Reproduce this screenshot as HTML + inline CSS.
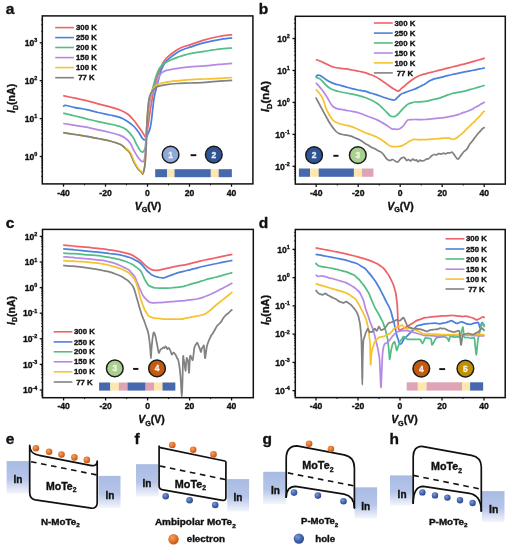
<!DOCTYPE html><html><head><meta charset="utf-8"><style>
html,body{margin:0;padding:0;background:#fff;}body{width:515px;height:550px;overflow:hidden;}
svg{display:block;will-change:transform;filter:blur(0.35px);}text{font-family:"Liberation Sans", sans-serif;font-weight:bold;fill:#111;stroke:#111;stroke-width:0.35px;}
.tk{font-size:8.6px;}.al{font-size:10.4px;}.lg{font-size:7.8px;}.pl{font-size:15.5px;}.cn{font-size:8.4px;fill:#f4f0ea;stroke:#f4f0ea;stroke-width:0.35px;}
.bt{font-size:10px;}
</style></head><body>
<svg width="515" height="550" viewBox="0 0 515 550">
<defs><linearGradient id="ing" x1="0" y1="0" x2="0" y2="1"><stop offset="0" stop-color="#a9bbe3"/><stop offset="0.55" stop-color="#b6c5e9"/><stop offset="1" stop-color="#f4f6fc"/></linearGradient></defs>
<text x="5.8" y="14.3" class="pl">a</text>
<rect x="42.3" y="15.9" width="210.6" height="168" fill="none" stroke="#111" stroke-width="1.5"/>
<line x1="63.5" y1="183.9" x2="63.5" y2="186.7" stroke="#111" stroke-width="1.3"/>
<text x="63.5" y="195.7" text-anchor="middle" class="tk">-40</text>
<line x1="105.5" y1="183.9" x2="105.5" y2="186.7" stroke="#111" stroke-width="1.3"/>
<text x="105.5" y="195.7" text-anchor="middle" class="tk">-20</text>
<line x1="147.5" y1="183.9" x2="147.5" y2="186.7" stroke="#111" stroke-width="1.3"/>
<text x="147.5" y="195.7" text-anchor="middle" class="tk">0</text>
<line x1="189.5" y1="183.9" x2="189.5" y2="186.7" stroke="#111" stroke-width="1.3"/>
<text x="189.5" y="195.7" text-anchor="middle" class="tk">20</text>
<line x1="231.5" y1="183.9" x2="231.5" y2="186.7" stroke="#111" stroke-width="1.3"/>
<text x="231.5" y="195.7" text-anchor="middle" class="tk">40</text>
<line x1="84.5" y1="183.9" x2="84.5" y2="185.3" stroke="#111" stroke-width="1"/>
<line x1="126.5" y1="183.9" x2="126.5" y2="185.3" stroke="#111" stroke-width="1"/>
<line x1="168.5" y1="183.9" x2="168.5" y2="185.3" stroke="#111" stroke-width="1"/>
<line x1="210.5" y1="183.9" x2="210.5" y2="185.3" stroke="#111" stroke-width="1"/>
<text x="148" y="209.7" text-anchor="middle" class="al" textLength="26.5" lengthAdjust="spacingAndGlyphs"><tspan font-style="italic">V</tspan><tspan font-size="7.2" dy="2.7">G</tspan><tspan dy="-2.7">(V)</tspan></text>
<line x1="39.7" y1="156.5" x2="42.5" y2="156.5" stroke="#111" stroke-width="1.3"/>
<text x="37.3" y="159.7" text-anchor="end" class="tk">10<tspan font-size="5.4" dy="-3.6">0</tspan></text>
<line x1="39.7" y1="118.6" x2="42.5" y2="118.6" stroke="#111" stroke-width="1.3"/>
<text x="37.3" y="121.8" text-anchor="end" class="tk">10<tspan font-size="5.4" dy="-3.6">1</tspan></text>
<line x1="39.7" y1="80.7" x2="42.5" y2="80.7" stroke="#111" stroke-width="1.3"/>
<text x="37.3" y="83.9" text-anchor="end" class="tk">10<tspan font-size="5.4" dy="-3.6">2</tspan></text>
<line x1="39.7" y1="42.8" x2="42.5" y2="42.8" stroke="#111" stroke-width="1.3"/>
<text x="37.3" y="46" text-anchor="end" class="tk">10<tspan font-size="5.4" dy="-3.6">3</tspan></text>
<line x1="41.1" y1="176.32" x2="42.5" y2="176.32" stroke="#111" stroke-width="0.8"/>
<line x1="41.1" y1="171.58" x2="42.5" y2="171.58" stroke="#111" stroke-width="0.8"/>
<line x1="41.1" y1="167.91" x2="42.5" y2="167.91" stroke="#111" stroke-width="0.8"/>
<line x1="41.1" y1="164.91" x2="42.5" y2="164.91" stroke="#111" stroke-width="0.8"/>
<line x1="41.1" y1="162.37" x2="42.5" y2="162.37" stroke="#111" stroke-width="0.8"/>
<line x1="41.1" y1="160.17" x2="42.5" y2="160.17" stroke="#111" stroke-width="0.8"/>
<line x1="41.1" y1="158.23" x2="42.5" y2="158.23" stroke="#111" stroke-width="0.8"/>
<line x1="41.1" y1="145.09" x2="42.5" y2="145.09" stroke="#111" stroke-width="0.8"/>
<line x1="41.1" y1="138.42" x2="42.5" y2="138.42" stroke="#111" stroke-width="0.8"/>
<line x1="41.1" y1="133.68" x2="42.5" y2="133.68" stroke="#111" stroke-width="0.8"/>
<line x1="41.1" y1="130.01" x2="42.5" y2="130.01" stroke="#111" stroke-width="0.8"/>
<line x1="41.1" y1="127.01" x2="42.5" y2="127.01" stroke="#111" stroke-width="0.8"/>
<line x1="41.1" y1="124.47" x2="42.5" y2="124.47" stroke="#111" stroke-width="0.8"/>
<line x1="41.1" y1="122.27" x2="42.5" y2="122.27" stroke="#111" stroke-width="0.8"/>
<line x1="41.1" y1="120.33" x2="42.5" y2="120.33" stroke="#111" stroke-width="0.8"/>
<line x1="41.1" y1="107.19" x2="42.5" y2="107.19" stroke="#111" stroke-width="0.8"/>
<line x1="41.1" y1="100.52" x2="42.5" y2="100.52" stroke="#111" stroke-width="0.8"/>
<line x1="41.1" y1="95.78" x2="42.5" y2="95.78" stroke="#111" stroke-width="0.8"/>
<line x1="41.1" y1="92.11" x2="42.5" y2="92.11" stroke="#111" stroke-width="0.8"/>
<line x1="41.1" y1="89.11" x2="42.5" y2="89.11" stroke="#111" stroke-width="0.8"/>
<line x1="41.1" y1="86.57" x2="42.5" y2="86.57" stroke="#111" stroke-width="0.8"/>
<line x1="41.1" y1="84.37" x2="42.5" y2="84.37" stroke="#111" stroke-width="0.8"/>
<line x1="41.1" y1="82.43" x2="42.5" y2="82.43" stroke="#111" stroke-width="0.8"/>
<line x1="41.1" y1="69.29" x2="42.5" y2="69.29" stroke="#111" stroke-width="0.8"/>
<line x1="41.1" y1="62.62" x2="42.5" y2="62.62" stroke="#111" stroke-width="0.8"/>
<line x1="41.1" y1="57.88" x2="42.5" y2="57.88" stroke="#111" stroke-width="0.8"/>
<line x1="41.1" y1="54.21" x2="42.5" y2="54.21" stroke="#111" stroke-width="0.8"/>
<line x1="41.1" y1="51.21" x2="42.5" y2="51.21" stroke="#111" stroke-width="0.8"/>
<line x1="41.1" y1="48.67" x2="42.5" y2="48.67" stroke="#111" stroke-width="0.8"/>
<line x1="41.1" y1="46.47" x2="42.5" y2="46.47" stroke="#111" stroke-width="0.8"/>
<line x1="41.1" y1="44.53" x2="42.5" y2="44.53" stroke="#111" stroke-width="0.8"/>
<line x1="41.1" y1="31.39" x2="42.5" y2="31.39" stroke="#111" stroke-width="0.8"/>
<line x1="41.1" y1="24.72" x2="42.5" y2="24.72" stroke="#111" stroke-width="0.8"/>
<line x1="41.1" y1="19.98" x2="42.5" y2="19.98" stroke="#111" stroke-width="0.8"/>
<text transform="translate(15.1,98.4) rotate(-90)" text-anchor="middle" class="al" textLength="29.2" lengthAdjust="spacingAndGlyphs"><tspan font-style="italic">I</tspan><tspan font-size="7.0" dy="2.4">D</tspan><tspan dy="-2.4">(nA)</tspan></text>
<line x1="55.2" y1="27.6" x2="73.9" y2="27.6" stroke="#ee6268" stroke-width="1.6"/>
<text x="76" y="30.2" class="lg">300 K</text>
<line x1="55.2" y1="37.6" x2="73.9" y2="37.6" stroke="#4a80de" stroke-width="1.6"/>
<text x="76" y="40.2" class="lg">250 K</text>
<line x1="55.2" y1="47.5" x2="73.9" y2="47.5" stroke="#52be84" stroke-width="1.6"/>
<text x="76" y="50.1" class="lg">200 K</text>
<line x1="55.2" y1="57.6" x2="73.9" y2="57.6" stroke="#b68ae4" stroke-width="1.6"/>
<text x="76" y="60.2" class="lg">150 K</text>
<line x1="55.2" y1="67.6" x2="73.9" y2="67.6" stroke="#f6c22e" stroke-width="1.6"/>
<text x="76" y="70.2" class="lg">100 K</text>
<line x1="55.2" y1="77.7" x2="73.9" y2="77.7" stroke="#828282" stroke-width="1.6"/>
<text x="76" y="80.3" class="lg"> 77 K</text>
<path d="M63.2,95.7 C65.17,96.12 71.12,97.37 75,98.2 C78.88,99.03 82.67,99.77 86.5,100.7 C90.33,101.63 94.08,102.78 98,103.8 C101.92,104.82 106.33,105.77 110,106.8 C113.67,107.83 117.07,108.8 120,110 C122.93,111.2 125.27,112.25 127.6,114 C129.93,115.75 132.08,118.25 134,120.5 C135.92,122.75 137.62,125.43 139.1,127.5 C140.58,129.57 141.95,131.47 142.9,132.9 C143.85,134.33 144.28,135.42 144.8,136.1 C145.32,136.78 145.63,137.52 146,137 C146.37,136.48 146.67,134.83 147,133 C147.33,131.17 147.62,128.67 148,126 C148.38,123.33 148.87,120 149.3,117 C149.73,114 150.15,110.83 150.6,108 C151.05,105.17 151.53,102.67 152,100 C152.47,97.33 152.92,94.48 153.4,92 C153.88,89.52 154.38,87.33 154.9,85.1 C155.42,82.87 155.87,80.77 156.5,78.6 C157.13,76.43 157.97,74 158.7,72.1 C159.43,70.2 160.17,68.75 160.9,67.2 C161.63,65.65 162.2,64.27 163.1,62.8 C164,61.33 164.85,59.95 166.3,58.4 C167.75,56.85 169.98,54.95 171.8,53.5 C173.62,52.05 175.38,50.78 177.2,49.7 C179.02,48.62 180.57,47.82 182.7,47 C184.83,46.18 186.35,45.98 190,44.8 C193.65,43.62 199.75,41.28 204.6,39.9 C209.45,38.52 214.5,37.38 219.1,36.5 C223.7,35.62 230.02,34.92 232.2,34.6" fill="none" stroke="#ee6268" stroke-width="1.75" stroke-linejoin="round" stroke-linecap="butt"/>
<path d="M63.2,106.6 C63.43,106.42 64.05,105.68 64.6,105.5 C65.15,105.32 64.77,105.15 66.5,105.5 C68.23,105.85 71.67,106.92 75,107.6 C78.33,108.28 82.67,108.78 86.5,109.6 C90.33,110.42 94.08,111.6 98,112.5 C101.92,113.4 106.33,114.18 110,115 C113.67,115.82 117.07,116.33 120,117.4 C122.93,118.47 125.27,119.88 127.6,121.4 C129.93,122.92 132.08,124.58 134,126.5 C135.92,128.42 137.73,130.98 139.1,132.9 C140.47,134.82 141.25,136.83 142.2,138 C143.15,139.17 143.95,140.33 144.8,139.9 C145.65,139.47 146.45,137.22 147.3,135.4 C148.15,133.58 149.2,131.57 149.9,129 C150.6,126.43 151.05,123.17 151.5,120 C151.95,116.83 152.22,113.33 152.6,110 C152.98,106.67 153.42,102.67 153.8,100 C154.18,97.33 154.53,95.75 154.9,94 C155.27,92.25 155.55,91.33 156,89.5 C156.45,87.67 157.05,85.18 157.6,83 C158.15,80.82 158.75,78.4 159.3,76.4 C159.85,74.4 160.27,72.72 160.9,71 C161.53,69.28 162.2,67.73 163.1,66.1 C164,64.47 164.85,62.83 166.3,61.2 C167.75,59.57 169.98,57.77 171.8,56.3 C173.62,54.83 175.38,53.5 177.2,52.4 C179.02,51.3 180.57,50.57 182.7,49.7 C184.83,48.83 186.35,48.38 190,47.2 C193.65,46.02 199.75,43.85 204.6,42.6 C209.45,41.35 214.5,40.5 219.1,39.7 C223.7,38.9 230.02,38.12 232.2,37.8" fill="none" stroke="#4a80de" stroke-width="1.75" stroke-linejoin="round" stroke-linecap="butt"/>
<path d="M63.2,113.2 C65.17,113.67 71.12,115.07 75,116 C78.88,116.93 82.67,117.87 86.5,118.8 C90.33,119.73 94.08,120.73 98,121.6 C101.92,122.47 106.33,123.18 110,124 C113.67,124.82 117.27,125.55 120,126.5 C122.73,127.45 124.28,128 126.4,129.7 C128.52,131.4 131.02,134.27 132.7,136.7 C134.38,139.13 135.23,141.97 136.5,144.3 C137.77,146.63 139.23,149.42 140.3,150.7 C141.37,151.98 142.08,152.45 142.9,152 C143.72,151.55 144.63,150.5 145.2,148 C145.77,145.5 145.95,141.33 146.3,137 C146.65,132.67 146.93,126.83 147.3,122 C147.67,117.17 148.05,111.83 148.5,108 C148.95,104.17 149.48,101.5 150,99 C150.52,96.5 151.05,95.13 151.6,93 C152.15,90.87 152.67,88.6 153.3,86.2 C153.93,83.8 154.68,80.95 155.4,78.6 C156.12,76.25 156.87,73.92 157.6,72.1 C158.33,70.28 158.88,68.98 159.8,67.7 C160.72,66.42 162.02,65.32 163.1,64.4 C164.18,63.48 164.85,63.02 166.3,62.2 C167.75,61.38 169.98,60.32 171.8,59.5 C173.62,58.68 175.38,57.93 177.2,57.3 C179.02,56.67 180.57,56.3 182.7,55.7 C184.83,55.1 186.35,54.43 190,53.7 C193.65,52.97 199.75,52.07 204.6,51.3 C209.45,50.53 214.5,49.65 219.1,49.1 C223.7,48.55 230.02,48.18 232.2,48" fill="none" stroke="#52be84" stroke-width="1.75" stroke-linejoin="round" stroke-linecap="butt"/>
<path d="M63.2,123.5 C65.17,123.8 71.12,124.68 75,125.3 C78.88,125.92 82.67,126.45 86.5,127.2 C90.33,127.95 94.08,128.92 98,129.8 C101.92,130.68 106.33,131.57 110,132.5 C113.67,133.43 117.48,134.48 120,135.4 C122.52,136.32 123.4,136.73 125.1,138 C126.8,139.27 128.72,140.88 130.2,143 C131.68,145.12 132.73,148.37 134,150.7 C135.27,153.03 136.63,155.32 137.8,157 C138.97,158.68 140.05,160.05 141,160.8 C141.95,161.55 142.87,162.13 143.5,161.5 C144.13,160.87 144.43,159.75 144.8,157 C145.17,154.25 145.4,149.83 145.7,145 C146,140.17 146.22,133.5 146.6,128 C146.98,122.5 147.47,116.5 148,112 C148.53,107.5 149.13,104 149.8,101 C150.47,98 151.07,96.28 152,94 C152.93,91.72 154.47,89.5 155.4,87.3 C156.33,85.1 156.87,82.8 157.6,80.8 C158.33,78.8 159.07,76.67 159.8,75.3 C160.53,73.93 160.92,73.42 162,72.6 C163.08,71.78 164.67,70.95 166.3,70.4 C167.93,69.85 169.07,69.75 171.8,69.3 C174.53,68.85 179.67,68.12 182.7,67.7 C185.73,67.28 186.35,67.1 190,66.8 C193.65,66.5 199.75,66.3 204.6,65.9 C209.45,65.5 214.5,64.82 219.1,64.4 C223.7,63.98 230.02,63.57 232.2,63.4" fill="none" stroke="#b68ae4" stroke-width="1.75" stroke-linejoin="round" stroke-linecap="butt"/>
<path d="M63.2,132.6 C65.17,132.92 71.12,133.88 75,134.5 C78.88,135.12 82.67,135.63 86.5,136.3 C90.33,136.97 94.08,137.72 98,138.5 C101.92,139.28 106.33,140.03 110,141 C113.67,141.97 117.48,143.12 120,144.3 C122.52,145.48 123.4,146.62 125.1,148.1 C126.8,149.58 128.72,150.87 130.2,153.2 C131.68,155.53 132.73,159.55 134,162.1 C135.27,164.65 136.53,166.8 137.8,168.5 C139.07,170.2 140.75,171.45 141.6,172.3 C142.45,173.15 142.37,174.67 142.9,173.6 C143.43,172.53 144.27,170.15 144.8,165.9 C145.33,161.65 145.78,154.08 146.1,148.1 C146.42,142.12 146.5,135.02 146.7,130 C146.9,124.98 147.05,122 147.3,118 C147.55,114 147.87,109.17 148.2,106 C148.53,102.83 148.82,101.08 149.3,99 C149.78,96.92 150.53,95.08 151.1,93.5 C151.67,91.92 151.98,90.72 152.7,89.5 C153.42,88.28 154.4,87.12 155.4,86.2 C156.4,85.28 156.88,84.68 158.7,84 C160.52,83.32 163.22,82.63 166.3,82.1 C169.38,81.57 173.25,81.2 177.2,80.8 C181.15,80.4 185.43,80 190,79.7 C194.57,79.4 199.75,79.23 204.6,79 C209.45,78.77 214.5,78.55 219.1,78.3 C223.7,78.05 230.02,77.63 232.2,77.5" fill="none" stroke="#f6c22e" stroke-width="1.75" stroke-linejoin="round" stroke-linecap="butt"/>
<path d="M63.2,132.6 C65.17,132.92 71.12,133.88 75,134.5 C78.88,135.12 82.67,135.63 86.5,136.3 C90.33,136.97 94.08,137.72 98,138.5 C101.92,139.28 106.33,140.03 110,141 C113.67,141.97 117.48,143.12 120,144.3 C122.52,145.48 123.4,146.62 125.1,148.1 C126.8,149.58 128.72,150.87 130.2,153.2 C131.68,155.53 132.73,159.55 134,162.1 C135.27,164.65 136.53,166.8 137.8,168.5 C139.07,170.2 140.75,171.45 141.6,172.3 C142.45,173.15 142.37,174.67 142.9,173.6 C143.43,172.53 144.27,170.15 144.8,165.9 C145.33,161.65 145.78,154.08 146.1,148.1 C146.42,142.12 146.5,135.02 146.7,130 C146.9,124.98 147.08,121.67 147.3,118 C147.52,114.33 147.73,111 148,108 C148.27,105 148.48,102.33 148.9,100 C149.32,97.67 149.87,95.57 150.5,94 C151.13,92.43 151.88,91.62 152.7,90.6 C153.52,89.58 154.4,88.63 155.4,87.9 C156.4,87.17 156.88,86.75 158.7,86.2 C160.52,85.65 163.22,85.05 166.3,84.6 C169.38,84.15 173.25,83.77 177.2,83.5 C181.15,83.23 185.43,83.2 190,83 C194.57,82.8 199.75,82.6 204.6,82.3 C209.45,82 214.5,81.52 219.1,81.2 C223.7,80.88 230.02,80.53 232.2,80.4" fill="none" stroke="#828282" stroke-width="1.75" stroke-linejoin="round" stroke-linecap="butt"/>
<path d="M125.45,147.65 C126.3,148.5 129.07,150.42 130.55,152.75 C132.03,155.08 133.08,159.1 134.35,161.65 C135.62,164.2 136.88,166.35 138.15,168.05 C139.42,169.75 141.1,171 141.95,171.85 C142.8,172.7 143.03,172.93 143.25,173.15" fill="none" stroke="#f6c22e" stroke-width="1.3" stroke-linejoin="round" stroke-linecap="butt"/>
<rect x="155.2" y="169.2" width="11.85" height="8" fill="#4668ae"/>
<rect x="167" y="169.2" width="7.55" height="8" fill="#fce8ae"/>
<rect x="174.5" y="169.2" width="36.35" height="8" fill="#4668ae"/>
<rect x="210.8" y="169.2" width="7.95" height="8" fill="#fce8ae"/>
<rect x="218.7" y="169.2" width="13.15" height="8" fill="#4668ae"/>
<circle cx="170.6" cy="154.7" r="8.35" fill="#8eaadb" stroke="#1b1b1b" stroke-width="1.45"/>
<text x="170.6" y="157.7" text-anchor="middle" class="cn">1</text>
<rect x="190.6" y="154.25" width="5.7" height="1.9" fill="#111"/>
<circle cx="213.8" cy="154.7" r="8.35" fill="#2f5597" stroke="#1b1b1b" stroke-width="1.45"/>
<text x="213.8" y="157.7" text-anchor="middle" class="cn">2</text>
<text x="258.8" y="14.3" class="pl">b</text>
<rect x="295.3" y="16.3" width="210" height="167.8" fill="none" stroke="#111" stroke-width="1.5"/>
<line x1="316.2" y1="184.1" x2="316.2" y2="186.9" stroke="#111" stroke-width="1.3"/>
<text x="316.2" y="195.7" text-anchor="middle" class="tk">-40</text>
<line x1="358.2" y1="184.1" x2="358.2" y2="186.9" stroke="#111" stroke-width="1.3"/>
<text x="358.2" y="195.7" text-anchor="middle" class="tk">-20</text>
<line x1="400.2" y1="184.1" x2="400.2" y2="186.9" stroke="#111" stroke-width="1.3"/>
<text x="400.2" y="195.7" text-anchor="middle" class="tk">0</text>
<line x1="442.2" y1="184.1" x2="442.2" y2="186.9" stroke="#111" stroke-width="1.3"/>
<text x="442.2" y="195.7" text-anchor="middle" class="tk">20</text>
<line x1="484.2" y1="184.1" x2="484.2" y2="186.9" stroke="#111" stroke-width="1.3"/>
<text x="484.2" y="195.7" text-anchor="middle" class="tk">40</text>
<line x1="337.2" y1="184.1" x2="337.2" y2="185.5" stroke="#111" stroke-width="1"/>
<line x1="379.2" y1="184.1" x2="379.2" y2="185.5" stroke="#111" stroke-width="1"/>
<line x1="421.2" y1="184.1" x2="421.2" y2="185.5" stroke="#111" stroke-width="1"/>
<line x1="463.2" y1="184.1" x2="463.2" y2="185.5" stroke="#111" stroke-width="1"/>
<text x="400.5" y="209.6" text-anchor="middle" class="al" textLength="26.5" lengthAdjust="spacingAndGlyphs"><tspan font-style="italic">V</tspan><tspan font-size="7.2" dy="2.7">G</tspan><tspan dy="-2.7">(V)</tspan></text>
<line x1="292.5" y1="166.3" x2="295.3" y2="166.3" stroke="#111" stroke-width="1.3"/>
<text x="289.7" y="169.5" text-anchor="end" class="tk">10<tspan font-size="5.4" dy="-3.6">-2</tspan></text>
<line x1="292.5" y1="134.35" x2="295.3" y2="134.35" stroke="#111" stroke-width="1.3"/>
<text x="289.7" y="137.55" text-anchor="end" class="tk">10<tspan font-size="5.4" dy="-3.6">-1</tspan></text>
<line x1="292.5" y1="102.4" x2="295.3" y2="102.4" stroke="#111" stroke-width="1.3"/>
<text x="289.7" y="105.6" text-anchor="end" class="tk">10<tspan font-size="5.4" dy="-3.6">0</tspan></text>
<line x1="292.5" y1="70.45" x2="295.3" y2="70.45" stroke="#111" stroke-width="1.3"/>
<text x="289.7" y="73.65" text-anchor="end" class="tk">10<tspan font-size="5.4" dy="-3.6">1</tspan></text>
<line x1="292.5" y1="38.5" x2="295.3" y2="38.5" stroke="#111" stroke-width="1.3"/>
<text x="289.7" y="41.7" text-anchor="end" class="tk">10<tspan font-size="5.4" dy="-3.6">2</tspan></text>
<line x1="293.9" y1="179.01" x2="295.3" y2="179.01" stroke="#111" stroke-width="0.8"/>
<line x1="293.9" y1="175.92" x2="295.3" y2="175.92" stroke="#111" stroke-width="0.8"/>
<line x1="293.9" y1="173.39" x2="295.3" y2="173.39" stroke="#111" stroke-width="0.8"/>
<line x1="293.9" y1="171.25" x2="295.3" y2="171.25" stroke="#111" stroke-width="0.8"/>
<line x1="293.9" y1="169.4" x2="295.3" y2="169.4" stroke="#111" stroke-width="0.8"/>
<line x1="293.9" y1="167.76" x2="295.3" y2="167.76" stroke="#111" stroke-width="0.8"/>
<line x1="293.9" y1="156.68" x2="295.3" y2="156.68" stroke="#111" stroke-width="0.8"/>
<line x1="293.9" y1="151.06" x2="295.3" y2="151.06" stroke="#111" stroke-width="0.8"/>
<line x1="293.9" y1="147.06" x2="295.3" y2="147.06" stroke="#111" stroke-width="0.8"/>
<line x1="293.9" y1="143.97" x2="295.3" y2="143.97" stroke="#111" stroke-width="0.8"/>
<line x1="293.9" y1="141.44" x2="295.3" y2="141.44" stroke="#111" stroke-width="0.8"/>
<line x1="293.9" y1="139.3" x2="295.3" y2="139.3" stroke="#111" stroke-width="0.8"/>
<line x1="293.9" y1="137.45" x2="295.3" y2="137.45" stroke="#111" stroke-width="0.8"/>
<line x1="293.9" y1="135.81" x2="295.3" y2="135.81" stroke="#111" stroke-width="0.8"/>
<line x1="293.9" y1="124.73" x2="295.3" y2="124.73" stroke="#111" stroke-width="0.8"/>
<line x1="293.9" y1="119.11" x2="295.3" y2="119.11" stroke="#111" stroke-width="0.8"/>
<line x1="293.9" y1="115.11" x2="295.3" y2="115.11" stroke="#111" stroke-width="0.8"/>
<line x1="293.9" y1="112.02" x2="295.3" y2="112.02" stroke="#111" stroke-width="0.8"/>
<line x1="293.9" y1="109.49" x2="295.3" y2="109.49" stroke="#111" stroke-width="0.8"/>
<line x1="293.9" y1="107.35" x2="295.3" y2="107.35" stroke="#111" stroke-width="0.8"/>
<line x1="293.9" y1="105.5" x2="295.3" y2="105.5" stroke="#111" stroke-width="0.8"/>
<line x1="293.9" y1="103.86" x2="295.3" y2="103.86" stroke="#111" stroke-width="0.8"/>
<line x1="293.9" y1="92.78" x2="295.3" y2="92.78" stroke="#111" stroke-width="0.8"/>
<line x1="293.9" y1="87.16" x2="295.3" y2="87.16" stroke="#111" stroke-width="0.8"/>
<line x1="293.9" y1="83.16" x2="295.3" y2="83.16" stroke="#111" stroke-width="0.8"/>
<line x1="293.9" y1="80.07" x2="295.3" y2="80.07" stroke="#111" stroke-width="0.8"/>
<line x1="293.9" y1="77.54" x2="295.3" y2="77.54" stroke="#111" stroke-width="0.8"/>
<line x1="293.9" y1="75.4" x2="295.3" y2="75.4" stroke="#111" stroke-width="0.8"/>
<line x1="293.9" y1="73.55" x2="295.3" y2="73.55" stroke="#111" stroke-width="0.8"/>
<line x1="293.9" y1="71.91" x2="295.3" y2="71.91" stroke="#111" stroke-width="0.8"/>
<line x1="293.9" y1="60.83" x2="295.3" y2="60.83" stroke="#111" stroke-width="0.8"/>
<line x1="293.9" y1="55.21" x2="295.3" y2="55.21" stroke="#111" stroke-width="0.8"/>
<line x1="293.9" y1="51.21" x2="295.3" y2="51.21" stroke="#111" stroke-width="0.8"/>
<line x1="293.9" y1="48.12" x2="295.3" y2="48.12" stroke="#111" stroke-width="0.8"/>
<line x1="293.9" y1="45.59" x2="295.3" y2="45.59" stroke="#111" stroke-width="0.8"/>
<line x1="293.9" y1="43.45" x2="295.3" y2="43.45" stroke="#111" stroke-width="0.8"/>
<line x1="293.9" y1="41.6" x2="295.3" y2="41.6" stroke="#111" stroke-width="0.8"/>
<line x1="293.9" y1="39.96" x2="295.3" y2="39.96" stroke="#111" stroke-width="0.8"/>
<line x1="293.9" y1="28.88" x2="295.3" y2="28.88" stroke="#111" stroke-width="0.8"/>
<line x1="293.9" y1="23.26" x2="295.3" y2="23.26" stroke="#111" stroke-width="0.8"/>
<line x1="293.9" y1="19.26" x2="295.3" y2="19.26" stroke="#111" stroke-width="0.8"/>
<text transform="translate(269.2,96.5) rotate(-90)" text-anchor="middle" class="al" textLength="31.1" lengthAdjust="spacingAndGlyphs"><tspan font-style="italic">I</tspan><tspan font-size="7.0" dy="2.4">D</tspan><tspan dy="-2.4">(nA)</tspan></text>
<line x1="373.9" y1="23" x2="392.8" y2="23" stroke="#ee6268" stroke-width="1.6"/>
<text x="394.5" y="25.6" class="lg">300 K</text>
<line x1="373.9" y1="33.1" x2="392.8" y2="33.1" stroke="#4a80de" stroke-width="1.6"/>
<text x="394.5" y="35.7" class="lg">250 K</text>
<line x1="373.9" y1="43" x2="392.8" y2="43" stroke="#52be84" stroke-width="1.6"/>
<text x="394.5" y="45.6" class="lg">200 K</text>
<line x1="373.9" y1="53" x2="392.8" y2="53" stroke="#b68ae4" stroke-width="1.6"/>
<text x="394.5" y="55.6" class="lg">150 K</text>
<line x1="373.9" y1="62.9" x2="392.8" y2="62.9" stroke="#f6c22e" stroke-width="1.6"/>
<text x="394.5" y="65.5" class="lg">100 K</text>
<line x1="373.9" y1="72.9" x2="392.8" y2="72.9" stroke="#828282" stroke-width="1.6"/>
<text x="394.5" y="75.5" class="lg"> 77 K</text>
<path d="M315.8,59.5 C316.5,59.75 318.53,60.4 320,61 C321.47,61.6 323.02,62.35 324.6,63.1 C326.18,63.85 327.8,64.77 329.5,65.5 C331.2,66.23 332.97,67.03 334.8,67.5 C336.63,67.97 338.57,68.07 340.5,68.3 C342.43,68.53 344.48,68.62 346.4,68.9 C348.32,69.18 350.07,69.63 352,70 C353.93,70.37 356.42,70.8 358,71.1 C359.58,71.4 360.33,71.53 361.5,71.8 C362.67,72.07 363.58,72.25 365,72.7 C366.42,73.15 368.3,73.87 370,74.5 C371.7,75.13 373.57,75.72 375.2,76.5 C376.83,77.28 378.32,78.23 379.8,79.2 C381.28,80.17 382.85,81.42 384.1,82.3 C385.35,83.18 386.25,83.77 387.3,84.5 C388.35,85.23 389.45,86.05 390.4,86.7 C391.35,87.35 392.15,87.87 393,88.4 C393.85,88.93 394.83,89.5 395.5,89.9 C396.17,90.3 396.57,90.58 397,90.8 C397.43,91.02 397.73,91.25 398.1,91.2 C398.47,91.15 398.78,90.82 399.2,90.5 C399.62,90.18 399.93,89.88 400.6,89.3 C401.27,88.72 402.35,87.75 403.2,87 C404.05,86.25 404.65,85.67 405.7,84.8 C406.75,83.93 408.23,82.75 409.5,81.8 C410.77,80.85 412.05,79.93 413.3,79.1 C414.55,78.27 415.72,77.48 417,76.8 C418.28,76.12 419.58,75.5 421,75 C422.42,74.5 424,74.2 425.5,73.8 C427,73.4 428.5,72.98 430,72.6 C431.5,72.22 433.07,71.87 434.5,71.5 C435.93,71.13 436.78,70.87 438.6,70.4 C440.42,69.93 443.13,69.27 445.4,68.7 C447.67,68.13 449.93,67.57 452.2,67 C454.47,66.43 456.73,65.87 459,65.3 C461.27,64.73 463.63,64.18 465.8,63.6 C467.97,63.02 469.88,62.4 472,61.8 C474.12,61.2 476.37,60.6 478.5,60 C480.63,59.4 483.75,58.5 484.8,58.2" fill="none" stroke="#ee6268" stroke-width="1.75" stroke-linejoin="round" stroke-linecap="butt"/>
<path d="M315.8,77.5 C315.97,77.22 316.43,76.2 316.8,75.8 C317.17,75.4 317.47,75.15 318,75.1 C318.53,75.05 319.4,75.28 320,75.5 C320.6,75.72 320.85,75.9 321.6,76.4 C322.35,76.9 323.52,77.8 324.5,78.5 C325.48,79.2 326.42,79.95 327.5,80.6 C328.58,81.25 329.78,81.87 331,82.4 C332.22,82.93 333.22,83.3 334.8,83.8 C336.38,84.3 338.57,84.85 340.5,85.4 C342.43,85.95 344.48,86.57 346.4,87.1 C348.32,87.63 350.07,88.12 352,88.6 C353.93,89.08 356.42,89.67 358,90 C359.58,90.33 360.33,90.4 361.5,90.6 C362.67,90.8 363.58,90.83 365,91.2 C366.42,91.57 368.3,92.27 370,92.8 C371.7,93.33 373.53,93.87 375.2,94.4 C376.87,94.93 378.52,95.48 380,96 C381.48,96.52 382.87,97.08 384.1,97.5 C385.33,97.92 386.35,98.18 387.4,98.5 C388.45,98.82 389.55,99.17 390.4,99.4 C391.25,99.63 391.85,99.78 392.5,99.9 C393.15,100.02 393.75,100.22 394.3,100.1 C394.85,99.98 395.38,99.52 395.8,99.2 C396.22,98.88 396.32,98.68 396.8,98.2 C397.28,97.72 398.07,96.93 398.7,96.3 C399.33,95.67 399.75,94.95 400.6,94.4 C401.45,93.85 402.73,93.43 403.8,93 C404.87,92.57 405.72,92.27 407,91.8 C408.28,91.33 410.02,90.73 411.5,90.2 C412.98,89.67 414.65,89.13 415.9,88.6 C417.15,88.07 417.93,87.53 419,87 C420.07,86.47 421.3,85.9 422.3,85.4 C423.3,84.9 423.97,84.65 425,84 C426.03,83.35 427.37,82.18 428.5,81.5 C429.63,80.82 430.72,80.37 431.8,79.9 C432.88,79.43 433.87,79.03 435,78.7 C436.13,78.37 436.87,78.32 438.6,77.9 C440.33,77.48 443.13,76.77 445.4,76.2 C447.67,75.63 449.93,75.02 452.2,74.5 C454.47,73.98 456.73,73.57 459,73.1 C461.27,72.63 463.63,72.13 465.8,71.7 C467.97,71.27 469.88,70.92 472,70.5 C474.12,70.08 476.37,69.63 478.5,69.2 C480.63,68.77 483.75,68.12 484.8,67.9" fill="none" stroke="#4a80de" stroke-width="1.75" stroke-linejoin="round" stroke-linecap="butt"/>
<path d="M315.8,77.7 C316.17,77.75 317.27,77.77 318,78 C318.73,78.23 319.37,78.47 320.2,79.1 C321.03,79.73 322.03,80.82 323,81.8 C323.97,82.78 325.03,84.05 326,85 C326.97,85.95 327.83,86.78 328.8,87.5 C329.77,88.22 330.68,88.78 331.8,89.3 C332.92,89.82 334.28,90.23 335.5,90.6 C336.72,90.97 337.28,91.1 339.1,91.5 C340.92,91.9 343.97,92.52 346.4,93 C348.83,93.48 351.52,93.93 353.7,94.4 C355.88,94.87 357.62,95.28 359.5,95.8 C361.38,96.32 363.45,96.97 365,97.5 C366.55,98.03 367.53,98.47 368.8,99 C370.07,99.53 371.32,100.03 372.6,100.7 C373.88,101.37 375.22,102.15 376.5,103 C377.78,103.85 379.13,104.8 380.3,105.8 C381.47,106.8 382.45,107.93 383.5,109 C384.55,110.07 385.45,111.03 386.6,112.2 C387.75,113.37 389.12,115.27 390.4,116 C391.68,116.73 393.32,116.68 394.3,116.6 C395.28,116.52 395.67,115.92 396.3,115.5 C396.93,115.08 397.38,114.8 398.1,114.1 C398.82,113.4 399.75,112.27 400.6,111.3 C401.45,110.33 402.33,109.22 403.2,108.3 C404.07,107.38 404.95,106.53 405.8,105.8 C406.65,105.07 407.35,104.4 408.3,103.9 C409.25,103.4 410.23,103.12 411.5,102.8 C412.77,102.48 414.4,102.17 415.9,102 C417.4,101.83 418.98,101.9 420.5,101.8 C422.02,101.7 423.12,101.72 425,101.4 C426.88,101.08 429.53,100.42 431.8,99.9 C434.07,99.38 436.33,98.98 438.6,98.3 C440.87,97.62 443.13,96.6 445.4,95.8 C447.67,95 449.93,94.1 452.2,93.5 C454.47,92.9 456.73,92.65 459,92.2 C461.27,91.75 463.63,91.33 465.8,90.8 C467.97,90.27 469.88,89.6 472,89 C474.12,88.4 476.37,87.82 478.5,87.2 C480.63,86.58 483.75,85.62 484.8,85.3" fill="none" stroke="#52be84" stroke-width="1.75" stroke-linejoin="round" stroke-linecap="butt"/>
<path d="M315.8,82.8 C316.28,83.3 317.73,84.72 318.7,85.8 C319.67,86.88 320.62,88.02 321.6,89.3 C322.58,90.58 323.62,92.05 324.6,93.5 C325.58,94.95 326.3,96.03 327.5,98 C328.7,99.97 330.72,103.77 331.8,105.3 C332.88,106.83 333.27,106.7 334,107.2 C334.73,107.7 335.03,107.93 336.2,108.3 C337.37,108.67 339.3,109.05 341,109.4 C342.7,109.75 344.57,110.07 346.4,110.4 C348.23,110.73 350.07,111.03 352,111.4 C353.93,111.77 356.42,112.2 358,112.6 C359.58,113 360.33,113.37 361.5,113.8 C362.67,114.23 363.42,114.58 365,115.2 C366.58,115.82 368.9,116.68 371,117.5 C373.1,118.32 375.77,119.27 377.6,120.1 C379.43,120.93 380.52,121.65 382,122.5 C383.48,123.35 384.92,124.17 386.5,125.2 C388.08,126.23 390.08,128.03 391.5,128.7 C392.92,129.37 393.73,129.15 395,129.2 C396.27,129.25 397.78,129.47 399.1,129 C400.42,128.53 401.87,127.4 402.9,126.4 C403.93,125.4 404.47,124.05 405.3,123 C406.13,121.95 406.87,120.65 407.9,120.1 C408.93,119.55 410.23,119.8 411.5,119.7 C412.77,119.6 414.08,119.52 415.5,119.5 C416.92,119.48 418.42,119.6 420,119.6 C421.58,119.6 423.08,119.62 425,119.5 C426.92,119.38 429.23,119.12 431.5,118.9 C433.77,118.68 436.27,118.47 438.6,118.2 C440.93,117.93 443.23,117.65 445.5,117.3 C447.77,116.95 450.12,116.55 452.2,116.1 C454.28,115.65 456.18,115.17 458,114.6 C459.82,114.03 461.52,113.25 463.1,112.7 C464.68,112.15 466.15,111.82 467.5,111.3 C468.85,110.78 470.28,109.98 471.2,109.6 C472.12,109.22 472.45,109.33 473,109 C473.55,108.67 473.88,108 474.5,107.6 C475.12,107.2 475.95,106.95 476.7,106.6 C477.45,106.25 478.28,105.93 479,105.5 C479.72,105.07 480.42,104.35 481,104 C481.58,103.65 481.87,103.73 482.5,103.4 C483.13,103.07 484.42,102.23 484.8,102" fill="none" stroke="#b68ae4" stroke-width="1.75" stroke-linejoin="round" stroke-linecap="butt"/>
<path d="M315.8,89.3 C316.3,89.83 317.83,91.28 318.8,92.5 C319.77,93.72 320.73,95.02 321.6,96.6 C322.47,98.18 323.27,100.05 324,102 C324.73,103.95 325.33,106.55 326,108.3 C326.67,110.05 327.37,111.25 328,112.5 C328.63,113.75 328.92,114.47 329.8,115.8 C330.68,117.13 332.18,119.38 333.3,120.5 C334.42,121.62 335.33,121.92 336.5,122.5 C337.67,123.08 338.88,123.58 340.3,124 C341.72,124.42 343.25,124.62 345,125 C346.75,125.38 349.22,125.85 350.8,126.3 C352.38,126.75 353.15,127.12 354.5,127.7 C355.85,128.28 357.65,129.22 358.9,129.8 C360.15,130.38 360.98,130.72 362,131.2 C363.02,131.68 363.87,132.27 365,132.7 C366.13,133.13 367.53,133.37 368.8,133.8 C370.07,134.23 371.32,134.77 372.6,135.3 C373.88,135.83 375.23,136.38 376.5,137 C377.77,137.62 379.03,138.3 380.2,139 C381.37,139.7 382.45,140.45 383.5,141.2 C384.55,141.95 385.37,142.7 386.5,143.5 C387.63,144.3 389.05,145.48 390.3,146 C391.55,146.52 392.75,146.5 394,146.6 C395.25,146.7 396.72,146.67 397.8,146.6 C398.88,146.53 399.65,146.4 400.5,146.2 C401.35,146 402.1,145.77 402.9,145.4 C403.7,145.03 404.47,144.53 405.3,144 C406.13,143.47 407.07,142.73 407.9,142.2 C408.73,141.67 409.45,141.22 410.3,140.8 C411.15,140.38 412.05,139.92 413,139.7 C413.95,139.48 415,139.48 416,139.5 C417,139.52 418,139.78 419,139.8 C420,139.82 421,139.62 422,139.6 C423,139.58 423.67,139.75 425,139.7 C426.33,139.65 428.42,139.42 430,139.3 C431.58,139.18 433.07,139.1 434.5,139 C435.93,138.9 437.1,138.83 438.6,138.7 C440.1,138.57 441.92,138.35 443.5,138.2 C445.08,138.05 446.88,137.7 448.1,137.8 C449.32,137.9 449.9,138.53 450.8,138.8 C451.7,139.07 452.58,139.53 453.5,139.4 C454.42,139.27 455.38,138.57 456.3,138 C457.22,137.43 457.97,136.8 459,136 C460.03,135.2 461.37,134.22 462.5,133.2 C463.63,132.18 464.68,131.02 465.8,129.9 C466.92,128.78 468.07,127.63 469.2,126.5 C470.33,125.37 471.72,123.88 472.6,123.1 C473.48,122.32 473.9,122.4 474.5,121.8 C475.1,121.2 475.65,120.08 476.2,119.5 C476.75,118.92 477.27,118.83 477.8,118.3 C478.33,117.77 478.87,116.88 479.4,116.3 C479.93,115.72 480.48,115.38 481,114.8 C481.52,114.22 481.87,113.45 482.5,112.8 C483.13,112.15 484.42,111.22 484.8,110.9" fill="none" stroke="#f6c22e" stroke-width="1.75" stroke-linejoin="round" stroke-linecap="butt"/>
<path d="M315.8,97.3 C316.25,98.17 317.53,100.67 318.5,102.5 C319.47,104.33 320.3,105.88 321.6,108.3 C322.9,110.72 324.73,114.2 326.3,117 C327.87,119.8 329.45,122.77 331,125.1 C332.55,127.43 334.35,129.65 335.6,131 C336.85,132.35 337.33,132.62 338.5,133.2 C339.67,133.78 341.27,134.17 342.6,134.5 C343.93,134.83 345.13,134.92 346.5,135.2 C347.87,135.48 349.63,135.87 350.8,136.2 C351.97,136.53 352.53,136.82 353.5,137.2 C354.47,137.58 355.6,138.08 356.6,138.5 C357.6,138.92 358.53,139.2 359.5,139.7 C360.47,140.2 361.48,140.87 362.4,141.5 C363.32,142.13 364.07,142.92 365,143.5 C365.93,144.08 366.95,144.38 368,145 C369.05,145.62 370.22,146.6 371.3,147.2 C372.38,147.8 373.45,148.07 374.5,148.6 C375.55,149.13 376.6,149.87 377.6,150.4 C378.6,150.93 379.65,151.27 380.5,151.8 C381.35,152.33 382.03,152.9 382.7,153.6 C383.37,154.3 383.87,155.17 384.5,156 C385.13,156.83 385.87,157.93 386.5,158.6 C387.13,159.27 387.67,159.68 388.3,160 C388.93,160.32 389.6,160.58 390.3,160.5 C391,160.42 391.67,159.4 392.5,159.5 C393.33,159.6 394.42,160.68 395.3,161.1 C396.18,161.52 397.08,162.18 397.8,162 C398.52,161.82 398.97,160.67 399.6,160 C400.23,159.33 400.85,158.43 401.6,158 C402.35,157.57 403.25,156.98 404.1,157.4 C404.95,157.82 405.97,160.15 406.7,160.5 C407.43,160.85 407.87,159.45 408.5,159.5 C409.13,159.55 409.75,160.85 410.5,160.8 C411.25,160.75 412.28,159.25 413,159.2 C413.72,159.15 414.22,160.4 414.8,160.5 C415.38,160.6 415.97,159.58 416.5,159.8 C417.03,160.02 417.42,161.73 418,161.8 C418.58,161.87 419.42,160.37 420,160.2 C420.58,160.03 420.78,160.75 421.5,160.8 C422.22,160.85 423.47,160.8 424.3,160.5 C425.13,160.2 425.8,159.28 426.5,159 C427.2,158.72 427.62,159.35 428.5,158.8 C429.38,158.25 430.8,156.42 431.8,155.7 C432.8,154.98 433.72,154.62 434.5,154.5 C435.28,154.38 435.82,155.13 436.5,155 C437.18,154.87 437.77,153.87 438.6,153.7 C439.43,153.53 440.68,154.08 441.5,154 C442.32,153.92 442.83,153.23 443.5,153.2 C444.17,153.17 444.75,153.87 445.5,153.8 C446.25,153.73 447.25,152.93 448,152.8 C448.75,152.67 449.3,153.08 450,153 C450.7,152.92 451.38,151.85 452.2,152.3 C453.02,152.75 454.18,154.75 454.9,155.7 C455.62,156.65 455.93,157.43 456.5,158 C457.07,158.57 457.75,159.27 458.3,159.1 C458.85,158.93 459.23,157.78 459.8,157 C460.37,156.22 461,155.32 461.7,154.4 C462.4,153.48 463.1,152.42 464,151.5 C464.9,150.58 466.18,150.07 467.1,148.9 C468.02,147.73 468.58,145.85 469.5,144.5 C470.42,143.15 471.77,141.88 472.6,140.8 C473.43,139.72 473.82,138.92 474.5,138 C475.18,137.08 476.03,136.13 476.7,135.3 C477.37,134.47 477.83,133.78 478.5,133 C479.17,132.22 480,131.35 480.7,130.6 C481.4,129.85 482.02,129.07 482.7,128.5 C483.38,127.93 484.45,127.42 484.8,127.2" fill="none" stroke="#828282" stroke-width="1.75" stroke-linejoin="round" stroke-linecap="butt"/>
<rect x="298.9" y="168.5" width="11.15" height="8.3" fill="#4668ae"/>
<rect x="310" y="168.5" width="8.75" height="8.3" fill="#fce8ae"/>
<rect x="318.7" y="168.5" width="35.25" height="8.3" fill="#4668ae"/>
<rect x="353.9" y="168.5" width="8.15" height="8.3" fill="#fce8ae"/>
<rect x="362" y="168.5" width="11.45" height="8.3" fill="#dfa3b6"/>
<circle cx="314.1" cy="155.2" r="8.35" fill="#2f5597" stroke="#1b1b1b" stroke-width="1.45"/>
<text x="314.1" y="158.2" text-anchor="middle" class="cn">2</text>
<rect x="333.3" y="154.85" width="5.2" height="1.9" fill="#111"/>
<circle cx="357.8" cy="155.2" r="8.35" fill="#a9d18e" stroke="#1b1b1b" stroke-width="1.45"/>
<text x="357.8" y="158.2" text-anchor="middle" class="cn">3</text>
<text x="5.8" y="228" class="pl">c</text>
<rect x="42.5" y="229.4" width="210.8" height="168.3" fill="none" stroke="#111" stroke-width="1.5"/>
<line x1="63.6" y1="397.7" x2="63.6" y2="400.5" stroke="#111" stroke-width="1.3"/>
<text x="63.6" y="409" text-anchor="middle" class="tk">-40</text>
<line x1="105.6" y1="397.7" x2="105.6" y2="400.5" stroke="#111" stroke-width="1.3"/>
<text x="105.6" y="409" text-anchor="middle" class="tk">-20</text>
<line x1="147.6" y1="397.7" x2="147.6" y2="400.5" stroke="#111" stroke-width="1.3"/>
<text x="147.6" y="409" text-anchor="middle" class="tk">0</text>
<line x1="189.6" y1="397.7" x2="189.6" y2="400.5" stroke="#111" stroke-width="1.3"/>
<text x="189.6" y="409" text-anchor="middle" class="tk">20</text>
<line x1="231.6" y1="397.7" x2="231.6" y2="400.5" stroke="#111" stroke-width="1.3"/>
<text x="231.6" y="409" text-anchor="middle" class="tk">40</text>
<line x1="84.6" y1="397.7" x2="84.6" y2="399.1" stroke="#111" stroke-width="1"/>
<line x1="126.6" y1="397.7" x2="126.6" y2="399.1" stroke="#111" stroke-width="1"/>
<line x1="168.6" y1="397.7" x2="168.6" y2="399.1" stroke="#111" stroke-width="1"/>
<line x1="210.6" y1="397.7" x2="210.6" y2="399.1" stroke="#111" stroke-width="1"/>
<text x="151.5" y="423" text-anchor="middle" class="al" textLength="26.5" lengthAdjust="spacingAndGlyphs"><tspan font-style="italic">V</tspan><tspan font-size="7.2" dy="2.7">G</tspan><tspan dy="-2.7">(V)</tspan></text>
<line x1="39.7" y1="390" x2="42.5" y2="390" stroke="#111" stroke-width="1.3"/>
<text x="37.3" y="393.2" text-anchor="end" class="tk">10<tspan font-size="5.4" dy="-3.6">-4</tspan></text>
<line x1="39.7" y1="364.4" x2="42.5" y2="364.4" stroke="#111" stroke-width="1.3"/>
<text x="37.3" y="367.6" text-anchor="end" class="tk">10<tspan font-size="5.4" dy="-3.6">-3</tspan></text>
<line x1="39.7" y1="338.8" x2="42.5" y2="338.8" stroke="#111" stroke-width="1.3"/>
<text x="37.3" y="342" text-anchor="end" class="tk">10<tspan font-size="5.4" dy="-3.6">-2</tspan></text>
<line x1="39.7" y1="313.2" x2="42.5" y2="313.2" stroke="#111" stroke-width="1.3"/>
<text x="37.3" y="316.4" text-anchor="end" class="tk">10<tspan font-size="5.4" dy="-3.6">-1</tspan></text>
<line x1="39.7" y1="287.6" x2="42.5" y2="287.6" stroke="#111" stroke-width="1.3"/>
<text x="37.3" y="290.8" text-anchor="end" class="tk">10<tspan font-size="5.4" dy="-3.6">0</tspan></text>
<line x1="39.7" y1="262" x2="42.5" y2="262" stroke="#111" stroke-width="1.3"/>
<text x="37.3" y="265.2" text-anchor="end" class="tk">10<tspan font-size="5.4" dy="-3.6">1</tspan></text>
<line x1="39.7" y1="236.4" x2="42.5" y2="236.4" stroke="#111" stroke-width="1.3"/>
<text x="37.3" y="239.6" text-anchor="end" class="tk">10<tspan font-size="5.4" dy="-3.6">2</tspan></text>
<line x1="41.1" y1="395.68" x2="42.5" y2="395.68" stroke="#111" stroke-width="0.8"/>
<line x1="41.1" y1="393.97" x2="42.5" y2="393.97" stroke="#111" stroke-width="0.8"/>
<line x1="41.1" y1="392.48" x2="42.5" y2="392.48" stroke="#111" stroke-width="0.8"/>
<line x1="41.1" y1="391.17" x2="42.5" y2="391.17" stroke="#111" stroke-width="0.8"/>
<line x1="41.1" y1="382.29" x2="42.5" y2="382.29" stroke="#111" stroke-width="0.8"/>
<line x1="41.1" y1="377.79" x2="42.5" y2="377.79" stroke="#111" stroke-width="0.8"/>
<line x1="41.1" y1="374.59" x2="42.5" y2="374.59" stroke="#111" stroke-width="0.8"/>
<line x1="41.1" y1="372.11" x2="42.5" y2="372.11" stroke="#111" stroke-width="0.8"/>
<line x1="41.1" y1="370.08" x2="42.5" y2="370.08" stroke="#111" stroke-width="0.8"/>
<line x1="41.1" y1="368.37" x2="42.5" y2="368.37" stroke="#111" stroke-width="0.8"/>
<line x1="41.1" y1="366.88" x2="42.5" y2="366.88" stroke="#111" stroke-width="0.8"/>
<line x1="41.1" y1="365.57" x2="42.5" y2="365.57" stroke="#111" stroke-width="0.8"/>
<line x1="41.1" y1="356.69" x2="42.5" y2="356.69" stroke="#111" stroke-width="0.8"/>
<line x1="41.1" y1="352.19" x2="42.5" y2="352.19" stroke="#111" stroke-width="0.8"/>
<line x1="41.1" y1="348.99" x2="42.5" y2="348.99" stroke="#111" stroke-width="0.8"/>
<line x1="41.1" y1="346.51" x2="42.5" y2="346.51" stroke="#111" stroke-width="0.8"/>
<line x1="41.1" y1="344.48" x2="42.5" y2="344.48" stroke="#111" stroke-width="0.8"/>
<line x1="41.1" y1="342.77" x2="42.5" y2="342.77" stroke="#111" stroke-width="0.8"/>
<line x1="41.1" y1="341.28" x2="42.5" y2="341.28" stroke="#111" stroke-width="0.8"/>
<line x1="41.1" y1="339.97" x2="42.5" y2="339.97" stroke="#111" stroke-width="0.8"/>
<line x1="41.1" y1="331.09" x2="42.5" y2="331.09" stroke="#111" stroke-width="0.8"/>
<line x1="41.1" y1="326.59" x2="42.5" y2="326.59" stroke="#111" stroke-width="0.8"/>
<line x1="41.1" y1="323.39" x2="42.5" y2="323.39" stroke="#111" stroke-width="0.8"/>
<line x1="41.1" y1="320.91" x2="42.5" y2="320.91" stroke="#111" stroke-width="0.8"/>
<line x1="41.1" y1="318.88" x2="42.5" y2="318.88" stroke="#111" stroke-width="0.8"/>
<line x1="41.1" y1="317.17" x2="42.5" y2="317.17" stroke="#111" stroke-width="0.8"/>
<line x1="41.1" y1="315.68" x2="42.5" y2="315.68" stroke="#111" stroke-width="0.8"/>
<line x1="41.1" y1="314.37" x2="42.5" y2="314.37" stroke="#111" stroke-width="0.8"/>
<line x1="41.1" y1="305.49" x2="42.5" y2="305.49" stroke="#111" stroke-width="0.8"/>
<line x1="41.1" y1="300.99" x2="42.5" y2="300.99" stroke="#111" stroke-width="0.8"/>
<line x1="41.1" y1="297.79" x2="42.5" y2="297.79" stroke="#111" stroke-width="0.8"/>
<line x1="41.1" y1="295.31" x2="42.5" y2="295.31" stroke="#111" stroke-width="0.8"/>
<line x1="41.1" y1="293.28" x2="42.5" y2="293.28" stroke="#111" stroke-width="0.8"/>
<line x1="41.1" y1="291.57" x2="42.5" y2="291.57" stroke="#111" stroke-width="0.8"/>
<line x1="41.1" y1="290.08" x2="42.5" y2="290.08" stroke="#111" stroke-width="0.8"/>
<line x1="41.1" y1="288.77" x2="42.5" y2="288.77" stroke="#111" stroke-width="0.8"/>
<line x1="41.1" y1="279.89" x2="42.5" y2="279.89" stroke="#111" stroke-width="0.8"/>
<line x1="41.1" y1="275.39" x2="42.5" y2="275.39" stroke="#111" stroke-width="0.8"/>
<line x1="41.1" y1="272.19" x2="42.5" y2="272.19" stroke="#111" stroke-width="0.8"/>
<line x1="41.1" y1="269.71" x2="42.5" y2="269.71" stroke="#111" stroke-width="0.8"/>
<line x1="41.1" y1="267.68" x2="42.5" y2="267.68" stroke="#111" stroke-width="0.8"/>
<line x1="41.1" y1="265.97" x2="42.5" y2="265.97" stroke="#111" stroke-width="0.8"/>
<line x1="41.1" y1="264.48" x2="42.5" y2="264.48" stroke="#111" stroke-width="0.8"/>
<line x1="41.1" y1="263.17" x2="42.5" y2="263.17" stroke="#111" stroke-width="0.8"/>
<line x1="41.1" y1="254.29" x2="42.5" y2="254.29" stroke="#111" stroke-width="0.8"/>
<line x1="41.1" y1="249.79" x2="42.5" y2="249.79" stroke="#111" stroke-width="0.8"/>
<line x1="41.1" y1="246.59" x2="42.5" y2="246.59" stroke="#111" stroke-width="0.8"/>
<line x1="41.1" y1="244.11" x2="42.5" y2="244.11" stroke="#111" stroke-width="0.8"/>
<line x1="41.1" y1="242.08" x2="42.5" y2="242.08" stroke="#111" stroke-width="0.8"/>
<line x1="41.1" y1="240.37" x2="42.5" y2="240.37" stroke="#111" stroke-width="0.8"/>
<line x1="41.1" y1="238.88" x2="42.5" y2="238.88" stroke="#111" stroke-width="0.8"/>
<line x1="41.1" y1="237.57" x2="42.5" y2="237.57" stroke="#111" stroke-width="0.8"/>
<text transform="translate(14.8,310.5) rotate(-90)" text-anchor="middle" class="al" textLength="29.1" lengthAdjust="spacingAndGlyphs"><tspan font-style="italic">I</tspan><tspan font-size="7.0" dy="2.4">D</tspan><tspan dy="-2.4">(nA)</tspan></text>
<line x1="53.7" y1="331.8" x2="72.4" y2="331.8" stroke="#ee6268" stroke-width="1.6"/>
<text x="74" y="334.4" class="lg">300 K</text>
<line x1="53.7" y1="341.9" x2="72.4" y2="341.9" stroke="#4a80de" stroke-width="1.6"/>
<text x="74" y="344.5" class="lg">250 K</text>
<line x1="53.7" y1="351.8" x2="72.4" y2="351.8" stroke="#52be84" stroke-width="1.6"/>
<text x="74" y="354.4" class="lg">200 K</text>
<line x1="53.7" y1="361.8" x2="72.4" y2="361.8" stroke="#b68ae4" stroke-width="1.6"/>
<text x="74" y="364.4" class="lg">150 K</text>
<line x1="53.7" y1="371.8" x2="72.4" y2="371.8" stroke="#f6c22e" stroke-width="1.6"/>
<text x="74" y="374.4" class="lg">100 K</text>
<line x1="53.7" y1="382" x2="72.4" y2="382" stroke="#828282" stroke-width="1.6"/>
<text x="74" y="384.6" class="lg"> 77 K</text>
<path d="M63.2,245.2 C64.78,245.33 69.53,245.73 72.7,246 C75.87,246.27 78.92,246.5 82.2,246.8 C85.48,247.1 89,247.47 92.4,247.8 C95.8,248.13 99.77,248.47 102.6,248.8 C105.43,249.13 107.13,249.45 109.4,249.8 C111.67,250.15 114.43,250.6 116.2,250.9 C117.97,251.2 118.4,251.23 120,251.6 C121.6,251.97 123.87,252.55 125.8,253.1 C127.73,253.65 129.9,254.17 131.6,254.9 C133.3,255.63 134.53,256.55 136,257.5 C137.47,258.45 139.18,259.62 140.4,260.6 C141.62,261.58 142.33,262.47 143.3,263.4 C144.27,264.33 145.23,265.38 146.2,266.2 C147.17,267.02 148.13,267.7 149.1,268.3 C150.07,268.9 151.02,269.47 152,269.8 C152.98,270.13 154.03,270.22 155,270.3 C155.97,270.38 156.6,270.45 157.8,270.3 C159,270.15 160.73,269.72 162.2,269.4 C163.67,269.08 164.9,268.78 166.6,268.4 C168.3,268.02 170.47,267.52 172.4,267.1 C174.33,266.68 176.1,266.28 178.2,265.9 C180.3,265.52 183.03,265.18 185,264.8 C186.97,264.42 187.92,264.1 190,263.6 C192.08,263.1 195,262.4 197.5,261.8 C200,261.2 202.58,260.53 205,260 C207.42,259.47 209.67,259.08 212,258.6 C214.33,258.12 216.7,257.58 219,257.1 C221.3,256.62 223.57,256.15 225.8,255.7 C228.03,255.25 231.3,254.62 232.4,254.4" fill="none" stroke="#ee6268" stroke-width="1.75" stroke-linejoin="round" stroke-linecap="butt"/>
<path d="M63.2,248.8 C64.78,248.95 69.53,249.4 72.7,249.7 C75.87,250 78.92,250.28 82.2,250.6 C85.48,250.92 89,251.27 92.4,251.6 C95.8,251.93 99.77,252.28 102.6,252.6 C105.43,252.92 107.13,253.22 109.4,253.5 C111.67,253.78 114.43,254.07 116.2,254.3 C117.97,254.53 118.4,254.55 120,254.9 C121.6,255.25 123.87,255.85 125.8,256.4 C127.73,256.95 129.9,257.52 131.6,258.2 C133.3,258.88 134.53,259.65 136,260.5 C137.47,261.35 139.18,262.33 140.4,263.3 C141.62,264.27 142.33,265.22 143.3,266.3 C144.27,267.38 145.23,268.75 146.2,269.8 C147.17,270.85 148.13,271.75 149.1,272.6 C150.07,273.45 150.92,274.25 152,274.9 C153.08,275.55 154.38,276.07 155.6,276.5 C156.82,276.93 157.95,277.28 159.3,277.5 C160.65,277.72 162.48,277.9 163.7,277.8 C164.92,277.7 165.63,277.25 166.6,276.9 C167.57,276.55 168.3,276.15 169.5,275.7 C170.7,275.25 172.35,274.7 173.8,274.2 C175.25,273.7 176.33,273.23 178.2,272.7 C180.07,272.17 183.03,271.48 185,271 C186.97,270.52 187.92,270.33 190,269.8 C192.08,269.27 195,268.43 197.5,267.8 C200,267.17 202.58,266.55 205,266 C207.42,265.45 209.67,265 212,264.5 C214.33,264 216.7,263.47 219,263 C221.3,262.53 223.57,262.13 225.8,261.7 C228.03,261.27 231.3,260.62 232.4,260.4" fill="none" stroke="#4a80de" stroke-width="1.75" stroke-linejoin="round" stroke-linecap="butt"/>
<path d="M63.2,253.2 C64.78,253.28 69.53,253.52 72.7,253.7 C75.87,253.88 78.92,254.05 82.2,254.3 C85.48,254.55 89,254.87 92.4,255.2 C95.8,255.53 99.77,255.93 102.6,256.3 C105.43,256.67 107.13,256.98 109.4,257.4 C111.67,257.82 114.43,258.43 116.2,258.8 C117.97,259.17 118.4,259.15 120,259.6 C121.6,260.05 123.87,260.77 125.8,261.5 C127.73,262.23 129.9,263.08 131.6,264 C133.3,264.92 134.53,265.9 136,267 C137.47,268.1 139.3,269.32 140.4,270.6 C141.5,271.88 141.88,273.25 142.6,274.7 C143.32,276.15 143.98,277.92 144.7,279.3 C145.42,280.68 146.17,281.92 146.9,283 C147.63,284.08 148.12,285.08 149.1,285.8 C150.08,286.52 151.58,286.93 152.8,287.3 C154.02,287.67 154.58,287.85 156.4,288 C158.22,288.15 161.28,288.2 163.7,288.2 C166.12,288.2 168.68,288.13 170.9,288 C173.12,287.87 175.05,287.63 177,287.4 C178.95,287.17 181.05,286.92 182.6,286.6 C184.15,286.28 185.07,285.87 186.3,285.5 C187.53,285.13 188.13,284.93 190,284.4 C191.87,283.87 195,283.03 197.5,282.3 C200,281.57 202.58,280.7 205,280 C207.42,279.3 209.67,278.72 212,278.1 C214.33,277.48 216.7,276.92 219,276.3 C221.3,275.68 223.57,275.02 225.8,274.4 C228.03,273.78 231.3,272.9 232.4,272.6" fill="none" stroke="#52be84" stroke-width="1.75" stroke-linejoin="round" stroke-linecap="butt"/>
<path d="M63.2,257 C63.83,256.97 65.87,256.75 67,256.8 C68.13,256.85 69.05,257.22 70,257.3 C70.95,257.38 71.7,257.18 72.7,257.3 C73.7,257.42 74.42,257.83 76,258 C77.58,258.17 79.47,258.08 82.2,258.3 C84.93,258.52 89,258.95 92.4,259.3 C95.8,259.65 99.77,259.97 102.6,260.4 C105.43,260.83 107.13,261.33 109.4,261.9 C111.67,262.47 114.43,263.2 116.2,263.8 C117.97,264.4 118.63,264.87 120,265.5 C121.37,266.13 122.95,266.88 124.4,267.6 C125.85,268.32 127.5,268.92 128.7,269.8 C129.9,270.68 130.62,271.8 131.6,272.9 C132.58,274 133.75,274.98 134.6,276.4 C135.45,277.82 135.98,279.7 136.7,281.4 C137.42,283.1 138.17,284.92 138.9,286.6 C139.63,288.28 140.37,289.93 141.1,291.5 C141.83,293.07 142.45,294.7 143.3,296 C144.15,297.3 145.23,298.32 146.2,299.3 C147.17,300.28 148.25,301.33 149.1,301.9 C149.95,302.47 150.57,302.53 151.3,302.7 C152.03,302.87 152.28,302.92 153.5,302.9 C154.72,302.88 156.9,302.7 158.6,302.6 C160.3,302.5 161.63,302.45 163.7,302.3 C165.77,302.15 168.58,301.9 171,301.7 C173.42,301.5 175.87,301.28 178.2,301.1 C180.53,300.92 183.03,300.82 185,300.6 C186.97,300.38 188,300.07 190,299.8 C192,299.53 194.83,299.42 197,299 C199.17,298.58 201,297.97 203,297.3 C205,296.63 207,295.83 209,295 C211,294.17 213,293.3 215,292.3 C217,291.3 219,290.05 221,289 C223,287.95 225.1,287 227,286 C228.9,285 231.5,283.5 232.4,283" fill="none" stroke="#b68ae4" stroke-width="1.75" stroke-linejoin="round" stroke-linecap="butt"/>
<path d="M63.2,260.7 C64.78,260.78 69.53,261.03 72.7,261.2 C75.87,261.37 78.92,261.45 82.2,261.7 C85.48,261.95 89,262.35 92.4,262.7 C95.8,263.05 99.77,263.37 102.6,263.8 C105.43,264.23 107.13,264.73 109.4,265.3 C111.67,265.87 114.43,266.68 116.2,267.2 C117.97,267.72 118.63,267.85 120,268.4 C121.37,268.95 122.95,269.78 124.4,270.5 C125.85,271.22 127.48,271.83 128.7,272.7 C129.92,273.57 130.72,274.6 131.7,275.7 C132.68,276.8 133.87,278.12 134.6,279.3 C135.33,280.48 135.62,281.58 136.1,282.8 C136.58,284.02 137.02,285.02 137.5,286.6 C137.98,288.18 138.52,290.37 139,292.3 C139.48,294.23 139.8,296.2 140.4,298.2 C141,300.2 141.88,302.35 142.6,304.3 C143.32,306.25 143.98,308.37 144.7,309.9 C145.42,311.43 146.17,312.42 146.9,313.5 C147.63,314.58 148.05,315.68 149.1,316.4 C150.15,317.12 151.83,317.47 153.2,317.8 C154.57,318.13 155.87,318.22 157.3,318.4 C158.73,318.58 160.28,318.78 161.8,318.9 C163.32,319.02 164.43,319.07 166.4,319.1 C168.37,319.13 171.18,319.1 173.6,319.1 C176.02,319.1 178.92,319.25 180.9,319.1 C182.88,318.95 183.98,318.5 185.5,318.2 C187.02,317.9 188.42,317.6 190,317.3 C191.58,317 193.33,316.7 195,316.4 C196.67,316.1 198.75,315.77 200,315.5 C201.25,315.23 201.67,315.05 202.5,314.8 C203.33,314.55 203.75,314.72 205,314 C206.25,313.28 208.33,311.83 210,310.5 C211.67,309.17 213.33,307.42 215,306 C216.67,304.58 218.33,303.33 220,302 C221.67,300.67 223.55,299.17 225,298 C226.45,296.83 227.47,296 228.7,295 C229.93,294 231.78,292.5 232.4,292" fill="none" stroke="#f6c22e" stroke-width="1.75" stroke-linejoin="round" stroke-linecap="butt"/>
<path d="M63.2,265.4 C64.78,265.53 69.53,265.9 72.7,266.2 C75.87,266.5 79.48,266.88 82.2,267.2 C84.92,267.52 86.73,267.77 89,268.1 C91.27,268.43 93.53,268.8 95.8,269.2 C98.07,269.6 100.33,270.05 102.6,270.5 C104.87,270.95 107.47,271.4 109.4,271.9 C111.33,272.4 112.62,272.93 114.2,273.5 C115.78,274.07 117.6,274.75 118.9,275.3 C120.2,275.85 120.98,276.23 122,276.8 C123.02,277.37 124.12,278.13 125,278.7 C125.88,279.27 126.43,279.48 127.3,280.2 C128.17,280.92 129.23,281.93 130.2,283 C131.17,284.07 132.37,285.35 133.1,286.6 C133.83,287.85 134.12,289.05 134.6,290.5 C135.08,291.95 135.52,293.63 136,295.3 C136.48,296.97 137.02,298.8 137.5,300.5 C137.98,302.2 138.42,303.83 138.9,305.5 C139.38,307.17 139.92,308.92 140.4,310.5 C140.88,312.08 141.33,313.67 141.8,315 C142.27,316.33 142.75,317.37 143.2,318.5 C143.65,319.63 143.98,320.38 144.5,321.8 C145.02,323.22 145.68,325.18 146.3,327 C146.92,328.82 147.72,330.7 148.2,332.7 C148.68,334.7 148.9,336.87 149.2,339 C149.5,341.13 149.78,343.33 150,345.5 C150.22,347.67 150.35,349.88 150.5,352 C150.65,354.12 150.77,358.2 150.9,358.2 C151.03,358.2 151.15,354.12 151.3,352 C151.45,349.88 151.58,347.83 151.8,345.5 C152.02,343.17 152.3,340.13 152.6,338 C152.9,335.87 153.28,333.45 153.6,332.7 C153.92,331.95 154.18,332.88 154.5,333.5 C154.82,334.12 155.18,335.15 155.5,336.4 C155.82,337.65 156.1,339.48 156.4,341 C156.7,342.52 156.92,343.55 157.3,345.5 C157.68,347.45 158.28,351.78 158.7,352.7 C159.12,353.62 159.43,351.6 159.8,351 C160.17,350.4 160.5,349.52 160.9,349.1 C161.3,348.68 161.75,348.8 162.2,348.5 C162.65,348.2 163.22,347.38 163.6,347.3 C163.98,347.22 164.18,348.15 164.5,348 C164.82,347.85 165.18,346.48 165.5,346.4 C165.82,346.32 166.1,347.05 166.4,347.5 C166.7,347.95 167,349.02 167.3,349.1 C167.6,349.18 167.9,348.15 168.2,348 C168.5,347.85 168.72,347.7 169.1,348.2 C169.48,348.7 170.05,349.95 170.5,351 C170.95,352.05 171.43,354.08 171.8,354.5 C172.17,354.92 172.4,353.8 172.7,353.5 C173,353.2 173.22,352.62 173.6,352.7 C173.98,352.78 174.53,353.38 175,354 C175.47,354.62 176.02,355.65 176.4,356.4 C176.78,357.15 177,357.9 177.3,358.5 C177.6,359.1 177.88,358.92 178.2,360 C178.52,361.08 178.9,363.18 179.2,365 C179.5,366.82 179.72,368.1 180,370.9 C180.28,373.7 180.68,378.62 180.9,381.8 C181.12,384.98 181.15,387.55 181.3,390 C181.45,392.45 181.65,396.5 181.8,396.5 C181.95,396.5 182.05,393.97 182.2,390 C182.35,386.03 182.55,378.3 182.7,372.7 C182.85,367.1 182.92,358.52 183.1,356.4 C183.28,354.28 183.57,358.8 183.8,360 C184.03,361.2 184.22,361.78 184.5,363.6 C184.78,365.42 185.23,370.83 185.5,370.9 C185.77,370.97 185.9,366.12 186.1,364 C186.3,361.88 186.47,358.95 186.7,358.2 C186.93,357.45 187.25,358.9 187.5,359.5 C187.75,360.1 187.93,359.6 188.2,361.8 C188.47,364 188.8,373.6 189.1,372.7 C189.4,371.8 189.62,358.85 190,356.4 C190.38,353.95 190.95,357.4 191.4,358 C191.85,358.6 192.33,360.67 192.7,360 C193.07,359.33 193.3,356.12 193.6,354 C193.9,351.88 194.12,348.88 194.5,347.3 C194.88,345.72 195.43,345.27 195.9,344.5 C196.37,343.73 196.83,342.45 197.3,342.7 C197.77,342.95 198.25,344.93 198.7,346 C199.15,347.07 199.62,348.1 200,349.1 C200.38,350.1 200.67,352.18 201,352 C201.33,351.82 201.67,348.83 202,348 C202.33,347.17 202.67,347.33 203,347 C203.33,346.67 203.67,344.17 204,346 C204.33,347.83 204.67,357 205,358 C205.33,359 205.67,354 206,352 C206.33,350 206.58,347.75 207,346 C207.42,344.25 208,342.83 208.5,341.5 C209,340.17 209.58,338.92 210,338 C210.42,337.08 210.5,336.83 211,336 C211.5,335.17 212.33,334.08 213,333 C213.67,331.92 214.33,330.67 215,329.5 C215.67,328.33 216.33,326.92 217,326 C217.67,325.08 218.33,324.67 219,324 C219.67,323.33 220.33,322.92 221,322 C221.67,321.08 222.33,319.5 223,318.5 C223.67,317.5 224.42,316.67 225,316 C225.58,315.33 226,314.92 226.5,314.5 C227,314.08 227.5,313.92 228,313.5 C228.5,313.08 229,312.5 229.5,312 C230,311.5 230.52,310.9 231,310.5 C231.48,310.1 232.17,309.75 232.4,309.6" fill="none" stroke="#828282" stroke-width="1.75" stroke-linejoin="round" stroke-linecap="butt"/>
<rect x="99.1" y="382.5" width="11.25" height="8.1" fill="#4668ae"/>
<rect x="110.3" y="382.5" width="8.55" height="8.1" fill="#fce8ae"/>
<rect x="118.8" y="382.5" width="8.75" height="8.1" fill="#dfa3b6"/>
<rect x="127.5" y="382.5" width="18.15" height="8.1" fill="#4668ae"/>
<rect x="145.6" y="382.5" width="8.45" height="8.1" fill="#dfa3b6"/>
<rect x="154" y="382.5" width="8.55" height="8.1" fill="#fce8ae"/>
<rect x="162.5" y="382.5" width="12.85" height="8.1" fill="#4668ae"/>
<circle cx="114.8" cy="368.4" r="8.35" fill="#a9d18e" stroke="#1b1b1b" stroke-width="1.45"/>
<text x="114.8" y="371.4" text-anchor="middle" class="cn">3</text>
<rect x="133.1" y="367.95" width="5.3" height="1.9" fill="#111"/>
<circle cx="157" cy="368.4" r="8.35" fill="#c55a11" stroke="#1b1b1b" stroke-width="1.45"/>
<text x="157" y="371.4" text-anchor="middle" class="cn">4</text>
<text x="258.8" y="228" class="pl">d</text>
<rect x="295.3" y="229.5" width="209.9" height="168.1" fill="none" stroke="#111" stroke-width="1.5"/>
<line x1="316" y1="397.6" x2="316" y2="400.4" stroke="#111" stroke-width="1.3"/>
<text x="316" y="409" text-anchor="middle" class="tk">-40</text>
<line x1="358" y1="397.6" x2="358" y2="400.4" stroke="#111" stroke-width="1.3"/>
<text x="358" y="409" text-anchor="middle" class="tk">-20</text>
<line x1="400" y1="397.6" x2="400" y2="400.4" stroke="#111" stroke-width="1.3"/>
<text x="400" y="409" text-anchor="middle" class="tk">0</text>
<line x1="442" y1="397.6" x2="442" y2="400.4" stroke="#111" stroke-width="1.3"/>
<text x="442" y="409" text-anchor="middle" class="tk">20</text>
<line x1="484" y1="397.6" x2="484" y2="400.4" stroke="#111" stroke-width="1.3"/>
<text x="484" y="409" text-anchor="middle" class="tk">40</text>
<line x1="337" y1="397.6" x2="337" y2="399" stroke="#111" stroke-width="1"/>
<line x1="379" y1="397.6" x2="379" y2="399" stroke="#111" stroke-width="1"/>
<line x1="421" y1="397.6" x2="421" y2="399" stroke="#111" stroke-width="1"/>
<line x1="463" y1="397.6" x2="463" y2="399" stroke="#111" stroke-width="1"/>
<text x="404.4" y="423" text-anchor="middle" class="al" textLength="26.5" lengthAdjust="spacingAndGlyphs"><tspan font-style="italic">V</tspan><tspan font-size="7.2" dy="2.7">G</tspan><tspan dy="-2.7">(V)</tspan></text>
<line x1="292.5" y1="390.64" x2="295.3" y2="390.64" stroke="#111" stroke-width="1.3"/>
<text x="289.7" y="393.84" text-anchor="end" class="tk">10<tspan font-size="5.4" dy="-3.6">-4</tspan></text>
<line x1="292.5" y1="362.38" x2="295.3" y2="362.38" stroke="#111" stroke-width="1.3"/>
<text x="289.7" y="365.58" text-anchor="end" class="tk">10<tspan font-size="5.4" dy="-3.6">-3</tspan></text>
<line x1="292.5" y1="334.12" x2="295.3" y2="334.12" stroke="#111" stroke-width="1.3"/>
<text x="289.7" y="337.32" text-anchor="end" class="tk">10<tspan font-size="5.4" dy="-3.6">-2</tspan></text>
<line x1="292.5" y1="305.86" x2="295.3" y2="305.86" stroke="#111" stroke-width="1.3"/>
<text x="289.7" y="309.06" text-anchor="end" class="tk">10<tspan font-size="5.4" dy="-3.6">-1</tspan></text>
<line x1="292.5" y1="277.6" x2="295.3" y2="277.6" stroke="#111" stroke-width="1.3"/>
<text x="289.7" y="280.8" text-anchor="end" class="tk">10<tspan font-size="5.4" dy="-3.6">0</tspan></text>
<line x1="292.5" y1="249.34" x2="295.3" y2="249.34" stroke="#111" stroke-width="1.3"/>
<text x="289.7" y="252.54" text-anchor="end" class="tk">10<tspan font-size="5.4" dy="-3.6">1</tspan></text>
<line x1="293.9" y1="395.02" x2="295.3" y2="395.02" stroke="#111" stroke-width="0.8"/>
<line x1="293.9" y1="393.38" x2="295.3" y2="393.38" stroke="#111" stroke-width="0.8"/>
<line x1="293.9" y1="391.93" x2="295.3" y2="391.93" stroke="#111" stroke-width="0.8"/>
<line x1="293.9" y1="382.13" x2="295.3" y2="382.13" stroke="#111" stroke-width="0.8"/>
<line x1="293.9" y1="377.16" x2="295.3" y2="377.16" stroke="#111" stroke-width="0.8"/>
<line x1="293.9" y1="373.63" x2="295.3" y2="373.63" stroke="#111" stroke-width="0.8"/>
<line x1="293.9" y1="370.89" x2="295.3" y2="370.89" stroke="#111" stroke-width="0.8"/>
<line x1="293.9" y1="368.65" x2="295.3" y2="368.65" stroke="#111" stroke-width="0.8"/>
<line x1="293.9" y1="366.76" x2="295.3" y2="366.76" stroke="#111" stroke-width="0.8"/>
<line x1="293.9" y1="365.12" x2="295.3" y2="365.12" stroke="#111" stroke-width="0.8"/>
<line x1="293.9" y1="363.67" x2="295.3" y2="363.67" stroke="#111" stroke-width="0.8"/>
<line x1="293.9" y1="353.87" x2="295.3" y2="353.87" stroke="#111" stroke-width="0.8"/>
<line x1="293.9" y1="348.9" x2="295.3" y2="348.9" stroke="#111" stroke-width="0.8"/>
<line x1="293.9" y1="345.37" x2="295.3" y2="345.37" stroke="#111" stroke-width="0.8"/>
<line x1="293.9" y1="342.63" x2="295.3" y2="342.63" stroke="#111" stroke-width="0.8"/>
<line x1="293.9" y1="340.39" x2="295.3" y2="340.39" stroke="#111" stroke-width="0.8"/>
<line x1="293.9" y1="338.5" x2="295.3" y2="338.5" stroke="#111" stroke-width="0.8"/>
<line x1="293.9" y1="336.86" x2="295.3" y2="336.86" stroke="#111" stroke-width="0.8"/>
<line x1="293.9" y1="335.41" x2="295.3" y2="335.41" stroke="#111" stroke-width="0.8"/>
<line x1="293.9" y1="325.61" x2="295.3" y2="325.61" stroke="#111" stroke-width="0.8"/>
<line x1="293.9" y1="320.64" x2="295.3" y2="320.64" stroke="#111" stroke-width="0.8"/>
<line x1="293.9" y1="317.11" x2="295.3" y2="317.11" stroke="#111" stroke-width="0.8"/>
<line x1="293.9" y1="314.37" x2="295.3" y2="314.37" stroke="#111" stroke-width="0.8"/>
<line x1="293.9" y1="312.13" x2="295.3" y2="312.13" stroke="#111" stroke-width="0.8"/>
<line x1="293.9" y1="310.24" x2="295.3" y2="310.24" stroke="#111" stroke-width="0.8"/>
<line x1="293.9" y1="308.6" x2="295.3" y2="308.6" stroke="#111" stroke-width="0.8"/>
<line x1="293.9" y1="307.15" x2="295.3" y2="307.15" stroke="#111" stroke-width="0.8"/>
<line x1="293.9" y1="297.35" x2="295.3" y2="297.35" stroke="#111" stroke-width="0.8"/>
<line x1="293.9" y1="292.38" x2="295.3" y2="292.38" stroke="#111" stroke-width="0.8"/>
<line x1="293.9" y1="288.85" x2="295.3" y2="288.85" stroke="#111" stroke-width="0.8"/>
<line x1="293.9" y1="286.11" x2="295.3" y2="286.11" stroke="#111" stroke-width="0.8"/>
<line x1="293.9" y1="283.87" x2="295.3" y2="283.87" stroke="#111" stroke-width="0.8"/>
<line x1="293.9" y1="281.98" x2="295.3" y2="281.98" stroke="#111" stroke-width="0.8"/>
<line x1="293.9" y1="280.34" x2="295.3" y2="280.34" stroke="#111" stroke-width="0.8"/>
<line x1="293.9" y1="278.89" x2="295.3" y2="278.89" stroke="#111" stroke-width="0.8"/>
<line x1="293.9" y1="269.09" x2="295.3" y2="269.09" stroke="#111" stroke-width="0.8"/>
<line x1="293.9" y1="264.12" x2="295.3" y2="264.12" stroke="#111" stroke-width="0.8"/>
<line x1="293.9" y1="260.59" x2="295.3" y2="260.59" stroke="#111" stroke-width="0.8"/>
<line x1="293.9" y1="257.85" x2="295.3" y2="257.85" stroke="#111" stroke-width="0.8"/>
<line x1="293.9" y1="255.61" x2="295.3" y2="255.61" stroke="#111" stroke-width="0.8"/>
<line x1="293.9" y1="253.72" x2="295.3" y2="253.72" stroke="#111" stroke-width="0.8"/>
<line x1="293.9" y1="252.08" x2="295.3" y2="252.08" stroke="#111" stroke-width="0.8"/>
<line x1="293.9" y1="250.63" x2="295.3" y2="250.63" stroke="#111" stroke-width="0.8"/>
<line x1="293.9" y1="240.83" x2="295.3" y2="240.83" stroke="#111" stroke-width="0.8"/>
<line x1="293.9" y1="235.86" x2="295.3" y2="235.86" stroke="#111" stroke-width="0.8"/>
<line x1="293.9" y1="232.33" x2="295.3" y2="232.33" stroke="#111" stroke-width="0.8"/>
<text transform="translate(268.9,310) rotate(-90)" text-anchor="middle" class="al" textLength="30" lengthAdjust="spacingAndGlyphs"><tspan font-style="italic">I</tspan><tspan font-size="7.0" dy="2.4">D</tspan><tspan dy="-2.4">(nA)</tspan></text>
<line x1="445.5" y1="238.8" x2="464.4" y2="238.8" stroke="#ee6268" stroke-width="1.6"/>
<text x="466" y="241.4" class="lg">300 K</text>
<line x1="445.5" y1="249" x2="464.4" y2="249" stroke="#4a80de" stroke-width="1.6"/>
<text x="466" y="251.6" class="lg">250 K</text>
<line x1="445.5" y1="259" x2="464.4" y2="259" stroke="#52be84" stroke-width="1.6"/>
<text x="466" y="261.6" class="lg">200 K</text>
<line x1="445.5" y1="269.2" x2="464.4" y2="269.2" stroke="#b68ae4" stroke-width="1.6"/>
<text x="466" y="271.8" class="lg">150 K</text>
<line x1="445.5" y1="279.1" x2="464.4" y2="279.1" stroke="#f6c22e" stroke-width="1.6"/>
<text x="466" y="281.7" class="lg">100 K</text>
<line x1="445.5" y1="289" x2="464.4" y2="289" stroke="#828282" stroke-width="1.6"/>
<text x="466" y="291.6" class="lg"> 77 K</text>
<path d="M315.6,247.9 C317,248.17 321.23,248.98 324,249.5 C326.77,250.02 329.7,250.52 332.2,251 C334.7,251.48 336.73,251.93 339,252.4 C341.27,252.87 343.53,253.28 345.8,253.8 C348.07,254.32 350.33,254.9 352.6,255.5 C354.87,256.1 357.38,256.83 359.4,257.4 C361.42,257.97 362.93,258.37 364.7,258.9 C366.47,259.43 368.55,260.08 370,260.6 C371.45,261.12 372.27,261.5 373.4,262 C374.53,262.5 375.67,262.97 376.8,263.6 C377.93,264.23 379.07,265.02 380.2,265.8 C381.33,266.58 382.58,267.28 383.6,268.3 C384.62,269.32 385.4,270.65 386.3,271.9 C387.2,273.15 388.2,274.48 389,275.8 C389.8,277.12 390.42,278.43 391.1,279.8 C391.78,281.17 392.53,282.53 393.1,284 C393.67,285.47 394.05,287.02 394.5,288.6 C394.95,290.18 395.47,291.82 395.8,293.5 C396.13,295.18 396.27,296.88 396.5,298.7 C396.73,300.52 397.02,302.18 397.2,304.4 C397.38,306.62 397.48,309.4 397.6,312 C397.72,314.6 397.8,317.83 397.9,320 C398,322.17 398.08,323.5 398.2,325 C398.32,326.5 398.38,328.13 398.6,329 C398.82,329.87 399.1,330.12 399.5,330.2 C399.9,330.28 400.32,329.78 401,329.5 C401.68,329.22 402.6,329 403.6,328.5 C404.6,328 405.87,327.17 407,326.5 C408.13,325.83 409.27,325.18 410.4,324.5 C411.53,323.82 412.67,323.08 413.8,322.4 C414.93,321.72 415.95,320.98 417.2,320.4 C418.45,319.82 419.95,319.35 421.3,318.9 C422.65,318.45 423.6,318.03 425.3,317.7 C427,317.37 429.45,317.13 431.5,316.9 C433.55,316.67 435.68,316.47 437.6,316.3 C439.52,316.13 441.2,316.02 443,315.9 C444.8,315.78 446.78,315.67 448.4,315.6 C450.02,315.53 451.38,315.45 452.7,315.5 C454.02,315.55 455.08,315.78 456.3,315.9 C457.52,316.02 458.88,316.1 460,316.2 C461.12,316.3 462.08,316.52 463,316.5 C463.92,316.48 464.45,316.02 465.5,316.1 C466.55,316.18 468.03,316.68 469.3,317 C470.57,317.32 472.15,317.63 473.1,318 C474.05,318.37 474.37,318.88 475,319.2 C475.63,319.52 476.25,319.93 476.9,319.9 C477.55,319.87 478.25,319.32 478.9,319 C479.55,318.68 480.28,318.3 480.8,318 C481.32,317.7 481.58,317.4 482,317.2 C482.42,317 482.87,316.67 483.3,316.8 C483.73,316.93 484.38,317.8 484.6,318" fill="none" stroke="#ee6268" stroke-width="1.75" stroke-linejoin="round" stroke-linecap="butt"/>
<path d="M315.6,254.3 C317,254.55 321.23,255.28 324,255.8 C326.77,256.32 329.7,256.92 332.2,257.4 C334.7,257.88 336.73,258.25 339,258.7 C341.27,259.15 343.77,259.58 345.8,260.1 C347.83,260.62 349.38,261.23 351.2,261.8 C353.02,262.37 355.1,262.82 356.7,263.5 C358.3,264.18 359.45,265.1 360.8,265.9 C362.15,266.7 363.68,267.4 364.8,268.3 C365.92,269.2 366.6,270.28 367.5,271.3 C368.4,272.32 369.32,273.32 370.2,274.4 C371.08,275.48 371.93,276.65 372.8,277.8 C373.67,278.95 374.5,279.93 375.4,281.3 C376.3,282.67 377.28,284.42 378.2,286 C379.12,287.58 380,289.1 380.9,290.8 C381.8,292.5 382.7,294.38 383.6,296.2 C384.5,298.02 385.5,300.12 386.3,301.7 C387.1,303.28 387.72,304.35 388.4,305.7 C389.08,307.05 389.75,308.02 390.4,309.8 C391.05,311.58 391.68,314.18 392.3,316.4 C392.92,318.62 393.57,320.97 394.1,323.1 C394.63,325.23 395.05,327.17 395.5,329.2 C395.95,331.23 396.35,333.6 396.8,335.3 C397.25,337 397.75,338.03 398.2,339.4 C398.65,340.77 398.93,342.82 399.5,343.5 C400.07,344.18 400.92,344.18 401.6,343.5 C402.28,342.82 402.92,340.43 403.6,339.4 C404.28,338.37 405.02,337.98 405.7,337.3 C406.38,336.62 407.03,335.97 407.7,335.3 C408.37,334.63 409.03,333.97 409.7,333.3 C410.37,332.63 410.9,332.1 411.7,331.3 C412.5,330.5 413.58,329.42 414.5,328.5 C415.42,327.58 416.07,326.42 417.2,325.8 C418.33,325.18 419.95,325.13 421.3,324.8 C422.65,324.47 423.83,324.02 425.3,323.8 C426.77,323.58 428.5,323.62 430.1,323.5 C431.7,323.38 433.67,323.1 434.9,323.1 C436.13,323.1 436.65,323.38 437.5,323.5 C438.35,323.62 439.05,323.87 440,323.8 C440.95,323.73 442.13,323.32 443.2,323.1 C444.27,322.88 445.43,322.77 446.4,322.5 C447.37,322.23 448.15,321.82 449,321.5 C449.85,321.18 450.67,320.52 451.5,320.6 C452.33,320.68 453.15,321.53 454,322 C454.85,322.47 455.75,323.3 456.6,323.4 C457.45,323.5 458.25,322.87 459.1,322.6 C459.95,322.33 460.85,321.77 461.7,321.8 C462.55,321.83 463.35,322.47 464.2,322.8 C465.05,323.13 466.05,323.58 466.8,323.8 C467.55,324.02 468.07,324 468.7,324.1 C469.33,324.2 469.97,324.47 470.6,324.4 C471.23,324.33 471.87,323.92 472.5,323.7 C473.13,323.48 473.77,323.25 474.4,323.1 C475.03,322.95 475.67,322.9 476.3,322.8 C476.93,322.7 477.72,322.13 478.2,322.5 C478.68,322.87 478.88,324.05 479.2,325 C479.52,325.95 479.8,328.2 480.1,328.2 C480.4,328.2 480.68,325.95 481,325 C481.32,324.05 481.62,322.67 482,322.5 C482.38,322.33 482.87,323.47 483.3,324 C483.73,324.53 484.38,325.42 484.6,325.7" fill="none" stroke="#4a80de" stroke-width="1.75" stroke-linejoin="round" stroke-linecap="butt"/>
<path d="M315.6,262.9 C315.83,263.17 316.5,263.98 317,264.5 C317.5,265.02 317.77,265.65 318.6,266 C319.43,266.35 320.87,266.4 322,266.6 C323.13,266.8 323.7,266.92 325.4,267.2 C327.1,267.48 329.93,267.83 332.2,268.3 C334.47,268.77 336.73,269.43 339,270 C341.27,270.57 343.98,271.13 345.8,271.7 C347.62,272.27 348.55,272.83 349.9,273.4 C351.25,273.97 352.77,274.42 353.9,275.1 C355.03,275.78 355.78,276.7 356.7,277.5 C357.62,278.3 358.5,278.93 359.4,279.9 C360.3,280.87 361.2,282.17 362.1,283.3 C363,284.43 364,285.58 364.8,286.7 C365.6,287.82 366.22,288.88 366.9,290 C367.58,291.12 368.25,292.03 368.9,293.4 C369.55,294.77 370.13,296.6 370.8,298.2 C371.47,299.8 372.22,301.42 372.9,303 C373.58,304.58 374.23,306.35 374.9,307.7 C375.57,309.05 376.23,309.97 376.9,311.1 C377.57,312.23 378.22,313.27 378.9,314.5 C379.58,315.73 380.32,317.15 381,318.5 C381.68,319.85 382.43,321.23 383,322.6 C383.57,323.97 383.95,325.33 384.4,326.7 C384.85,328.07 385.3,329.33 385.7,330.8 C386.1,332.27 386.45,333.92 386.8,335.5 C387.15,337.08 387.52,338.48 387.8,340.3 C388.08,342.12 388.28,344.37 388.5,346.4 C388.72,348.43 388.9,350.35 389.1,352.5 C389.3,354.65 389.38,359.55 389.7,359.3 C390.02,359.05 390.53,353.48 391,351 C391.47,348.52 392.07,345.73 392.5,344.4 C392.93,343.07 393.25,343.45 393.6,343 C393.95,342.55 394.25,341.2 394.6,341.7 C394.95,342.2 395.35,344.55 395.7,346 C396.05,347.45 396.42,349.95 396.7,350.4 C396.98,350.85 397.18,349.25 397.4,348.7 C397.62,348.15 397.73,347.8 398,347.1 C398.27,346.4 398.67,345.4 399,344.5 C399.33,343.6 399.53,342.58 400,341.7 C400.47,340.82 401.2,340.03 401.8,339.2 C402.4,338.37 402.95,336.9 403.6,336.7 C404.25,336.5 405.02,337.55 405.7,338 C406.38,338.45 406.8,339.17 407.7,339.4 C408.6,339.63 409.97,339.4 411.1,339.4 C412.23,339.4 413.48,339.4 414.5,339.4 C415.52,339.4 416.3,339.4 417.2,339.4 C418.1,339.4 419.22,339.05 419.9,339.4 C420.58,339.75 420.85,340.82 421.3,341.5 C421.75,342.18 422.15,343.63 422.6,343.5 C423.05,343.37 423.55,341.62 424,340.7 C424.45,339.78 424.63,338.4 425.3,338 C425.97,337.6 427.08,338.18 428,338.3 C428.92,338.42 430.22,338.12 430.8,338.7 C431.38,339.28 431.28,340.77 431.5,341.8 C431.72,342.83 431.65,344.95 432.1,344.9 C432.55,344.85 433.52,342.65 434.2,341.5 C434.88,340.35 435.55,338.67 436.2,338 C436.85,337.33 437.47,337.65 438.1,337.5 C438.73,337.35 439.32,337.2 440,337.1 C440.68,337 441.47,336.97 442.2,336.9 C442.93,336.83 443.77,336.6 444.4,336.7 C445.03,336.8 445.47,337.22 446,337.5 C446.53,337.78 447.12,337.82 447.6,338.4 C448.08,338.98 448.47,341.32 448.9,341 C449.33,340.68 449.58,337.2 450.2,336.5 C450.82,335.8 451.8,336.72 452.6,336.8 C453.4,336.88 454.18,337 455,337 C455.82,337 456.67,336.85 457.5,336.8 C458.33,336.75 459.33,337.53 460,336.7 C460.67,335.87 461.02,333.43 461.5,331.8 C461.98,330.17 462.57,326.87 462.9,326.9 C463.23,326.93 463.28,330.3 463.5,332 C463.72,333.7 463.6,336.18 464.2,337.1 C464.8,338.02 466.13,337.35 467.1,337.5 C468.07,337.65 469.15,337.88 470,338 C470.85,338.12 471.47,338.13 472.2,338.2 C472.93,338.27 473.88,336.98 474.4,338.4 C474.92,339.82 474.98,343.93 475.3,346.7 C475.62,349.47 475.98,355 476.3,355 C476.62,355 476.88,349.47 477.2,346.7 C477.52,343.93 477.72,341.05 478.2,338.4 C478.68,335.75 479.47,333.35 480.1,330.8 C480.73,328.25 481.47,324.07 482,323.1 C482.53,322.13 482.87,324.35 483.3,325 C483.73,325.65 484.38,326.67 484.6,327" fill="none" stroke="#52be84" stroke-width="1.75" stroke-linejoin="round" stroke-linecap="butt"/>
<path d="M315.6,274.7 C315.83,274.88 316.5,275.5 317,275.8 C317.5,276.1 318.02,276.47 318.6,276.5 C319.18,276.53 319.82,276.05 320.5,276 C321.18,275.95 321.53,275.98 322.7,276.2 C323.87,276.42 325.92,276.92 327.5,277.3 C329.08,277.68 330.28,277.97 332.2,278.5 C334.12,279.03 336.73,279.82 339,280.5 C341.27,281.18 343.98,281.88 345.8,282.6 C347.62,283.32 348.55,284.02 349.9,284.8 C351.25,285.58 352.77,286.5 353.9,287.3 C355.03,288.1 355.78,288.8 356.7,289.6 C357.62,290.4 358.63,291.1 359.4,292.1 C360.17,293.1 360.63,294.25 361.3,295.6 C361.97,296.95 362.73,298.18 363.4,300.2 C364.07,302.22 364.63,305.43 365.3,307.7 C365.97,309.97 366.72,311.77 367.4,313.8 C368.08,315.83 368.72,317.97 369.4,319.9 C370.08,321.83 370.82,323.58 371.5,325.4 C372.18,327.22 372.93,329 373.5,330.8 C374.07,332.6 374.45,334.38 374.9,336.2 C375.35,338.02 375.8,340 376.2,341.7 C376.6,343.4 376.95,344.82 377.3,346.4 C377.65,347.98 378.02,349.67 378.3,351.2 C378.58,352.73 378.78,354.13 379,355.6 C379.22,357.07 379.38,356.77 379.6,360 C379.82,363.23 380.07,370.45 380.3,375 C380.53,379.55 380.75,388.13 381,387.3 C381.25,386.47 381.57,375.22 381.8,370 C382.03,364.78 382.2,359.37 382.4,356 C382.6,352.63 382.67,351.73 383,349.8 C383.33,347.87 383.83,345.53 384.4,344.4 C384.97,343.27 385.73,343.45 386.4,343 C387.07,342.55 387.72,342.38 388.4,341.7 C389.08,341.02 389.82,339.82 390.5,338.9 C391.18,337.98 391.82,337 392.5,336.2 C393.18,335.4 393.92,334.78 394.6,334.1 C395.28,333.42 395.8,332.57 396.6,332.1 C397.4,331.63 398.47,331.55 399.4,331.3 C400.33,331.05 401.27,330.72 402.2,330.6 C403.13,330.48 404.08,330.6 405,330.6 C405.92,330.6 406.68,330.43 407.7,330.6 C408.72,330.77 409.97,331.27 411.1,331.6 C412.23,331.93 413.13,332.2 414.5,332.6 C415.87,333 417.72,333.55 419.3,334 C420.88,334.45 422.08,335.03 424,335.3 C425.92,335.57 428.53,335.48 430.8,335.6 C433.07,335.72 435.33,336 437.6,336 C439.87,336 442.13,335.72 444.4,335.6 C446.67,335.48 449.33,335.4 451.2,335.3 C453.07,335.2 454.13,335.1 455.6,335 C457.07,334.9 458.43,334.68 460,334.7 C461.57,334.72 463.33,334.97 465,335.1 C466.67,335.23 467.95,335.4 470,335.5 C472.05,335.6 474.87,335.63 477.3,335.7 C479.73,335.77 483.38,335.87 484.6,335.9" fill="none" stroke="#b68ae4" stroke-width="1.75" stroke-linejoin="round" stroke-linecap="butt"/>
<path d="M315.6,283.7 C316.42,283.95 318.87,284.7 320.5,285.2 C322.13,285.7 323.45,286.12 325.4,286.7 C327.35,287.28 329.93,288.03 332.2,288.7 C334.47,289.37 337.1,290.15 339,290.7 C340.9,291.25 342.02,291.43 343.6,292 C345.18,292.57 347.37,293.53 348.5,294.1 C349.63,294.67 349.63,294.87 350.4,295.4 C351.17,295.93 352.2,296.62 353.1,297.3 C354,297.98 355,298.6 355.8,299.5 C356.6,300.4 357.22,301.57 357.9,302.7 C358.58,303.83 359.22,305.02 359.9,306.3 C360.58,307.58 361.32,309.03 362,310.4 C362.68,311.77 363.43,313.27 364,314.5 C364.57,315.73 364.95,316.67 365.4,317.8 C365.85,318.93 366.32,319.97 366.7,321.3 C367.08,322.63 367.37,324.22 367.7,325.8 C368.03,327.38 368.42,328.87 368.7,330.8 C368.98,332.73 369.17,335.13 369.4,337.4 C369.63,339.67 369.9,339.9 370.1,344.4 C370.3,348.9 370.4,362.47 370.6,364.4 C370.8,366.33 371.05,358.43 371.3,356 C371.55,353.57 371.73,351.55 372.1,349.8 C372.47,348.05 373.03,346.85 373.5,345.5 C373.97,344.15 374.33,342.7 374.9,341.7 C375.47,340.7 376.23,340.18 376.9,339.5 C377.57,338.82 378.1,338.05 378.9,337.6 C379.7,337.15 380.78,337.03 381.7,336.8 C382.62,336.57 383.5,336.53 384.4,336.2 C385.3,335.87 386.2,335.25 387.1,334.8 C388,334.35 389.12,333.97 389.8,333.5 C390.48,333.03 390.75,332.45 391.2,332 C391.65,331.55 392.02,331.38 392.5,330.8 C392.98,330.22 393.48,329.07 394.1,328.5 C394.72,327.93 395.52,327.73 396.2,327.4 C396.88,327.07 397.53,326.77 398.2,326.5 C398.87,326.23 399.53,326.03 400.2,325.8 C400.87,325.57 401.63,324.93 402.2,325.1 C402.77,325.27 403.13,326.23 403.6,326.8 C404.07,327.37 404.32,328.22 405,328.5 C405.68,328.78 406.8,328.5 407.7,328.5 C408.6,328.5 409.38,328.33 410.4,328.5 C411.42,328.67 412.67,329.15 413.8,329.5 C414.93,329.85 416.07,330.13 417.2,330.6 C418.33,331.07 419.47,331.73 420.6,332.3 C421.73,332.87 422.87,333.72 424,334 C425.13,334.28 426.27,334 427.4,334 C428.53,334 429.1,333.93 430.8,334 C432.5,334.07 435.33,334.28 437.6,334.4 C439.87,334.52 441.97,334.65 444.4,334.7 C446.83,334.75 449.6,334.7 452.2,334.7 C454.8,334.7 457.37,334.72 460,334.7 C462.63,334.68 465.33,334.62 468,334.6 C470.67,334.58 473.23,334.6 476,334.6 C478.77,334.6 483.17,334.6 484.6,334.6" fill="none" stroke="#f6c22e" stroke-width="1.75" stroke-linejoin="round" stroke-linecap="butt"/>
<path d="M315.6,290 C315.83,290.3 316.5,291.23 317,291.8 C317.5,292.37 318.02,293 318.6,293.4 C319.18,293.8 319.82,293.97 320.5,294.2 C321.18,294.43 322.12,294.83 322.7,294.8 C323.28,294.77 323.55,294.23 324,294 C324.45,293.77 324.82,293.23 325.4,293.4 C325.98,293.57 326.82,294.57 327.5,295 C328.18,295.43 328.72,295.58 329.5,296 C330.28,296.42 331.45,297.12 332.2,297.5 C332.95,297.88 333.47,298.08 334,298.3 C334.53,298.52 334.82,298.48 335.4,298.8 C335.98,299.12 336.82,299.73 337.5,300.2 C338.18,300.67 338.83,301.27 339.5,301.6 C340.17,301.93 340.82,301.98 341.5,302.2 C342.18,302.42 342.8,303 343.6,302.9 C344.4,302.8 345.52,301.58 346.3,301.6 C347.08,301.62 347.62,302.55 348.3,303 C348.98,303.45 349.7,303.72 350.4,304.3 C351.1,304.88 351.82,305.72 352.5,306.5 C353.18,307.28 353.92,308.25 354.5,309 C355.08,309.75 355.55,310.32 356,311 C356.45,311.68 356.82,312.27 357.2,313.1 C357.58,313.93 357.97,314.87 358.3,316 C358.63,317.13 358.92,318.57 359.2,319.9 C359.48,321.23 359.77,322.42 360,324 C360.23,325.58 360.42,327.57 360.6,329.4 C360.78,331.23 360.95,332.95 361.1,335 C361.25,337.05 361.37,337.53 361.5,341.7 C361.63,345.87 361.77,352.82 361.9,360 C362.03,367.18 362.17,384.8 362.3,384.8 C362.43,384.8 362.53,367.18 362.7,360 C362.87,352.82 363.08,345.28 363.3,341.7 C363.52,338.12 363.77,339.42 364,338.5 C364.23,337.58 364.42,337.12 364.7,336.2 C364.98,335.28 365.37,333.9 365.7,333 C366.03,332.1 366.3,331.52 366.7,330.8 C367.1,330.08 367.65,328.48 368.1,328.7 C368.55,328.92 368.97,331.63 369.4,332.1 C369.83,332.57 370.25,331.5 370.7,331.5 C371.15,331.5 371.63,332.35 372.1,332.1 C372.57,331.85 373.03,330.57 373.5,330 C373.97,329.43 374.33,328.57 374.9,328.7 C375.47,328.83 376.23,331.13 376.9,330.8 C377.57,330.47 378.22,326.82 378.9,326.7 C379.58,326.58 380.37,329.63 381,330.1 C381.63,330.57 382.13,329.73 382.7,329.5 C383.27,329.27 383.78,329.28 384.4,328.7 C385.02,328.12 385.73,326.9 386.4,326 C387.07,325.1 387.73,323.88 388.4,323.3 C389.07,322.72 389.72,322.73 390.4,322.5 C391.08,322.27 391.8,322.15 392.5,321.9 C393.2,321.65 393.92,321.33 394.6,321 C395.28,320.67 396,320 396.6,319.9 C397.2,319.8 397.63,320.28 398.2,320.4 C398.77,320.52 399.4,320.83 400,320.6 C400.6,320.37 401.2,319.48 401.8,319 C402.4,318.52 402.95,317.2 403.6,317.7 C404.25,318.2 405.02,320.53 405.7,322 C406.38,323.47 406.92,325.57 407.7,326.5 C408.48,327.43 409.5,327.27 410.4,327.6 C411.3,327.93 412.08,328.3 413.1,328.5 C414.12,328.7 415.37,328.68 416.5,328.8 C417.63,328.92 418.77,328.97 419.9,329.2 C421.03,329.43 422.17,329.85 423.3,330.2 C424.43,330.55 425.8,331.23 426.7,331.3 C427.6,331.37 428.02,330.83 428.7,330.6 C429.38,330.37 429.88,330.08 430.8,329.9 C431.72,329.72 433.07,329.62 434.2,329.5 C435.33,329.38 436.63,329.42 437.6,329.2 C438.57,328.98 439.23,328.3 440,328.2 C440.77,328.1 441.47,328.55 442.2,328.6 C442.93,328.65 443.67,328.33 444.4,328.5 C445.13,328.67 445.85,329.22 446.6,329.6 C447.35,329.98 448.1,330.48 448.9,330.8 C449.7,331.12 450.55,331.3 451.4,331.5 C452.25,331.7 453.13,332.02 454,332 C454.87,331.98 455.75,331.6 456.6,331.4 C457.45,331.2 458.53,330.03 459.1,330.8 C459.67,331.57 459.68,333.67 460,336 C460.32,338.33 460.67,344.3 461,344.8 C461.33,345.3 461.68,340.7 462,339 C462.32,337.3 462.32,335.43 462.9,334.6 C463.48,333.77 464.65,334.22 465.5,334 C466.35,333.78 467.15,333.3 468,333.3 C468.85,333.3 469.75,333.78 470.6,334 C471.45,334.22 472.27,334.72 473.1,334.6 C473.93,334.48 474.75,333.73 475.6,333.3 C476.45,332.87 477.47,332.55 478.2,332 C478.93,331.45 479.37,330.63 480,330 C480.63,329.37 481.45,328.28 482,328.2 C482.55,328.12 482.87,329.07 483.3,329.5 C483.73,329.93 484.38,330.58 484.6,330.8" fill="none" stroke="#828282" stroke-width="1.75" stroke-linejoin="round" stroke-linecap="butt"/>
<rect x="406.7" y="382.3" width="11.15" height="8.3" fill="#dfa3b6"/>
<rect x="417.8" y="382.3" width="8.75" height="8.3" fill="#fce8ae"/>
<rect x="426.5" y="382.3" width="35.65" height="8.3" fill="#dfa3b6"/>
<rect x="462.1" y="382.3" width="8.05" height="8.3" fill="#fce8ae"/>
<rect x="470.1" y="382.3" width="13.05" height="8.3" fill="#4668ae"/>
<circle cx="421.3" cy="368.6" r="8.35" fill="#c55a11" stroke="#1b1b1b" stroke-width="1.45"/>
<text x="421.3" y="371.6" text-anchor="middle" class="cn">4</text>
<rect x="439.3" y="368.15" width="5.8" height="1.9" fill="#111"/>
<circle cx="465.4" cy="368.6" r="8.35" fill="#bf9000" stroke="#1b1b1b" stroke-width="1.45"/>
<text x="465.4" y="371.6" text-anchor="middle" class="cn">5</text>
<defs><radialGradient id="eg" cx="0.38" cy="0.35" r="0.7"><stop offset="0" stop-color="#f6a15e"/><stop offset="0.6" stop-color="#de6f27"/><stop offset="1" stop-color="#b9521a"/></radialGradient><radialGradient id="hg" cx="0.38" cy="0.35" r="0.7"><stop offset="0" stop-color="#7f9bd6"/><stop offset="0.6" stop-color="#3f61ab"/><stop offset="1" stop-color="#2b4787"/></radialGradient></defs>
<text x="5.8" y="444.3" class="pl">e</text>
<rect x="6.6" y="461.1" width="23.3" height="32.4" fill="url(#ing)"/>
<text x="13.5" y="483.3" class="bt" font-size="10.2" textLength="8.9" lengthAdjust="spacingAndGlyphs">In</text>
<rect x="98.6" y="475.9" width="21.9" height="32.1" fill="url(#ing)"/>
<text x="105.5" y="498.6" class="bt" font-size="10.2" textLength="8.9" lengthAdjust="spacingAndGlyphs">In</text>
<path d="M29.7,445.4 C29.9,451.5 32.5,454.6 40.5,455.6 L91.6,465.6 C95.6,466 97.2,464 97.2,461 L97.2,503 C97.2,506.5 94.5,508.5 91.5,508.2 L35.2,499.8 C31.8,499.2 29.7,496.5 29.7,492.5 Z" fill="none" stroke="#111" stroke-width="1.7" stroke-linejoin="round" stroke-linecap="round"/>
<line x1="31" y1="461.7" x2="97.2" y2="475" stroke="#111" stroke-width="1.6" stroke-dasharray="5.6 4.6"/>
<circle cx="35.9" cy="448.2" r="3.3" fill="url(#eg)"/>
<circle cx="49.1" cy="451.7" r="3.3" fill="url(#eg)"/>
<circle cx="61.5" cy="454.6" r="3.3" fill="url(#eg)"/>
<circle cx="74.4" cy="457.4" r="3.3" fill="url(#eg)"/>
<circle cx="86.8" cy="459.9" r="3.3" fill="url(#eg)"/>
<text x="46" y="489.6" font-size="10" textLength="30.5" lengthAdjust="spacingAndGlyphs">MoTe<tspan font-size="6.4" dy="2.6">2</tspan></text>
<text x="40.9" y="524.6" font-size="9.2" textLength="38.8" lengthAdjust="spacingAndGlyphs">N-MoTe<tspan font-size="5.89" dy="2.6">2</tspan></text>
<text x="134.5" y="444.3" class="pl">f</text>
<rect x="136" y="464.2" width="22.6" height="32.3" fill="url(#ing)"/>
<text x="142.5" y="486.5" class="bt" font-size="10.2" textLength="8.9" lengthAdjust="spacingAndGlyphs">In</text>
<rect x="227.2" y="479.1" width="21.9" height="32.4" fill="url(#ing)"/>
<text x="233.5" y="501" class="bt" font-size="10.2" textLength="8.9" lengthAdjust="spacingAndGlyphs">In</text>
<path d="M159.1,446.2 L159.1,486 C159.1,488.6 160.6,489.6 163.2,489.9 L222.6,500.3 C224.8,500.6 225.9,499.6 225.9,497.5 L225.9,462 C225.9,461.3 225.3,461.1 224.8,461 L159.1,447.4" fill="none" stroke="#111" stroke-width="1.7" stroke-linejoin="round" stroke-linecap="round"/>
<line x1="159.9" y1="466" x2="225.9" y2="479.6" stroke="#111" stroke-width="1.6" stroke-dasharray="5.6 4.6"/>
<circle cx="172.3" cy="445" r="3.3" fill="url(#eg)"/>
<circle cx="193.2" cy="449.7" r="3.3" fill="url(#eg)"/>
<circle cx="213.5" cy="454.4" r="3.3" fill="url(#eg)"/>
<circle cx="165.7" cy="496.3" r="3.3" fill="url(#hg)"/>
<circle cx="189.6" cy="500.3" r="3.3" fill="url(#hg)"/>
<circle cx="215.2" cy="505" r="3.3" fill="url(#hg)"/>
<text x="174.8" y="487.8" font-size="10" textLength="31.3" lengthAdjust="spacingAndGlyphs">MoTe<tspan font-size="6.4" dy="2.6">2</tspan></text>
<text x="154.9" y="525.1" font-size="9.2" textLength="80.8" lengthAdjust="spacingAndGlyphs">Ambipolar MoTe<tspan font-size="5.89" dy="2.6">2</tspan></text>
<circle cx="173.5" cy="539.2" r="5.2" fill="url(#eg)"/>
<text x="186.7" y="541.8" font-size="9" textLength="38.2" lengthAdjust="spacingAndGlyphs">electron</text>
<text x="262.5" y="444.3" class="pl">g</text>
<rect x="263.2" y="471.8" width="22.6" height="32.2" fill="url(#ing)"/>
<text x="271" y="493.8" class="bt" font-size="10.2" textLength="8.9" lengthAdjust="spacingAndGlyphs">In</text>
<rect x="354.6" y="487.3" width="22.5" height="31.2" fill="url(#ing)"/>
<text x="361.2" y="509.6" class="bt" font-size="10.2" textLength="8.9" lengthAdjust="spacingAndGlyphs">In</text>
<path d="M286.2,497.2 L286.2,458.5 C286.2,450.5 290,445.8 297,445.8 L344.1,454.8 C350.5,456 354.4,460.5 354.4,468 L354.4,507.8" fill="none" stroke="#111" stroke-width="1.7" stroke-linejoin="round" stroke-linecap="round"/>
<path d="M286.2,497.2 C286.4,490 290,486.5 295.5,486.4 L344.1,494.2 C350,495.3 354.2,499.5 354.4,507.8" fill="none" stroke="#111" stroke-width="1.7" stroke-linejoin="round" stroke-linecap="round"/>
<line x1="287.8" y1="472.9" x2="354.2" y2="485.9" stroke="#111" stroke-width="1.6" stroke-dasharray="5.6 4.6"/>
<circle cx="309.1" cy="443.7" r="3.3" fill="url(#eg)"/>
<circle cx="330.9" cy="449" r="3.3" fill="url(#eg)"/>
<circle cx="294" cy="492.6" r="3.3" fill="url(#hg)"/>
<circle cx="317.9" cy="495.6" r="3.3" fill="url(#hg)"/>
<circle cx="343.5" cy="501.3" r="3.3" fill="url(#hg)"/>
<text x="302.3" y="469" font-size="10" textLength="31.2" lengthAdjust="spacingAndGlyphs">MoTe<tspan font-size="6.4" dy="2.6">2</tspan></text>
<text x="301" y="524.4" font-size="8.8" textLength="37.3" lengthAdjust="spacingAndGlyphs">P-MoTe<tspan font-size="5.63" dy="2.6">2</tspan></text>
<circle cx="298.9" cy="538.6" r="5.2" fill="url(#hg)"/>
<text x="315.2" y="541.6" font-size="9" textLength="20.1" lengthAdjust="spacingAndGlyphs">hole</text>
<text x="389.5" y="444.3" class="pl">h</text>
<rect x="390" y="475.4" width="22.8" height="30.1" fill="url(#ing)"/>
<text x="397.6" y="498.4" class="bt" font-size="10.2" textLength="8.9" lengthAdjust="spacingAndGlyphs">In</text>
<rect x="481.9" y="491.1" width="22.6" height="30.9" fill="url(#ing)"/>
<text x="489" y="513.2" class="bt" font-size="10.2" textLength="9.2" lengthAdjust="spacingAndGlyphs">In</text>
<path d="M413.2,503.2 L413.2,456.5 C413.2,450 416.5,446.2 421.8,446.3 L471.5,455.4 C477.5,456.6 481.3,460.5 481.3,467 L481.3,511" fill="none" stroke="#111" stroke-width="1.7" stroke-linejoin="round" stroke-linecap="round"/>
<path d="M413.2,503.2 C413.3,493 416.5,486.5 423.2,486.4 L469.4,493.3 C477.5,494.6 481.2,500 481.3,511" fill="none" stroke="#111" stroke-width="1.7" stroke-linejoin="round" stroke-linecap="round"/>
<line x1="413.3" y1="475.4" x2="481.7" y2="489.3" stroke="#111" stroke-width="1.6" stroke-dasharray="5.6 4.6"/>
<circle cx="422.4" cy="492.4" r="3.2" fill="url(#hg)"/>
<circle cx="435" cy="495.4" r="3.2" fill="url(#hg)"/>
<circle cx="447.4" cy="497.6" r="3.2" fill="url(#hg)"/>
<circle cx="460" cy="500.2" r="3.2" fill="url(#hg)"/>
<circle cx="472.6" cy="503" r="3.2" fill="url(#hg)"/>
<text x="431" y="470" font-size="10" textLength="31" lengthAdjust="spacingAndGlyphs">MoTe<tspan font-size="6.4" dy="2.6">2</tspan></text>
<text x="429" y="524.5" font-size="8.8" textLength="38.5" lengthAdjust="spacingAndGlyphs">P-MoTe<tspan font-size="5.63" dy="2.6">2</tspan></text>
</svg></body></html>
